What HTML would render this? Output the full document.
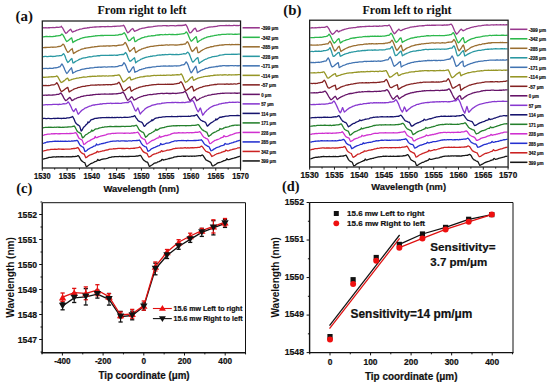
<!DOCTYPE html><html><head><meta charset="utf-8"><style>html,body{margin:0;padding:0;background:#fff;width:550px;height:386px;overflow:hidden}svg{display:block}</style></head><body><svg width="550" height="386" viewBox="0 0 550 386">
<rect width="550" height="386" fill="#fff"/>
<polyline points="42.90,27.84 43.90,27.76 44.90,27.90 45.90,27.69 46.90,27.81 47.90,27.73 48.90,27.61 49.90,27.73 50.90,27.56 51.90,27.66 52.40,27.53 52.90,27.51 53.90,27.56 54.90,27.62 55.90,27.32 56.90,27.27 57.90,27.33 58.90,27.37 59.40,27.23 59.90,27.02 60.91,26.76 61.40,26.31 61.91,27.08 62.91,28.47 63.91,30.41 64.91,32.20 65.80,33.30 66.91,32.75 67.91,31.57 68.91,30.64 69.91,29.77 70.70,29.21 71.91,31.38 72.50,32.08 72.91,31.84 73.91,31.37 74.91,31.05 75.91,30.55 76.91,30.13 77.91,29.87 78.91,29.52 79.91,29.19 80.91,29.10 81.91,28.84 82.91,28.49 83.91,28.41 84.91,28.23 85.91,28.19 86.91,28.00 87.91,27.74 88.91,27.85 89.91,27.46 90.91,27.45 91.91,27.44 92.91,27.14 93.91,27.14 94.91,26.90 95.91,27.02 96.91,26.97 97.91,26.84 98.91,26.89 99.91,26.66 100.92,26.75 101.92,26.68 102.92,26.66 103.50,26.60 103.92,26.72 104.92,26.74 105.92,26.57 106.92,26.61 107.92,26.40 108.92,26.59 109.92,26.56 110.92,26.65 111.92,26.58 112.92,26.39 113.92,26.41 114.50,26.49 114.92,26.27 115.92,26.36 116.92,26.20 117.92,26.11 118.92,26.03 119.92,26.19 120.92,25.93 121.50,25.95 121.92,25.88 122.92,25.59 123.50,25.16 123.92,25.69 124.92,27.33 125.92,29.57 126.92,31.55 127.90,32.83 128.92,31.95 129.92,30.98 130.92,29.83 131.92,29.01 132.80,28.47 133.92,30.33 134.60,31.44 134.92,31.26 135.92,30.70 136.92,30.28 137.92,29.86 138.92,29.35 139.93,28.90 140.93,28.71 141.93,28.40 142.93,28.20 143.93,28.08 144.93,27.79 145.93,27.54 146.93,27.40 147.93,27.26 148.93,26.92 149.93,27.06 150.93,26.91 151.93,26.84 152.93,26.70 153.93,26.46 154.93,26.35 155.93,26.15 156.93,26.22 157.93,25.96 158.93,25.88 159.93,25.87 160.93,25.80 161.93,25.82 162.93,25.69 163.93,25.65 164.93,25.68 165.60,25.66 165.93,25.74 166.93,25.62 167.93,25.89 168.93,25.79 169.93,25.64 170.93,25.66 171.93,25.68 172.93,25.68 173.93,25.59 174.93,25.82 175.93,25.86 176.60,25.68 176.93,25.68 177.93,25.51 178.94,25.46 179.94,25.48 180.94,25.39 181.94,25.51 182.94,25.25 183.60,25.19 183.94,25.40 184.94,24.84 185.60,24.51 185.94,24.94 186.94,26.35 187.94,28.86 188.94,31.33 189.94,32.96 190.94,32.64 191.94,31.48 192.94,30.27 193.94,29.02 194.94,28.34 195.27,28.08 195.94,29.35 196.94,31.49 197.94,31.20 198.94,30.80 199.94,30.33 200.94,29.81 201.94,29.37 202.94,28.99 203.94,28.62 204.94,28.15 205.94,27.96 206.94,27.66 207.94,27.32 208.94,27.12 209.94,27.02 210.94,26.85 211.94,26.84 212.94,26.79 213.94,26.50 214.94,26.53 215.94,26.41 216.94,26.27 217.94,25.95 218.94,25.79 219.94,25.69 220.94,25.60 221.94,25.53 222.95,25.60 223.95,25.65 224.95,25.59 225.95,25.46 226.95,25.50 227.70,25.54 228.95,25.31 229.95,25.50 230.95,25.57 231.95,25.53 232.95,25.52 233.95,25.43 234.95,25.34 235.95,25.53 236.95,25.39 237.95,25.53 238.70,25.59 238.95,25.40 239.95,25.37" fill="none" stroke="#98388e" stroke-width="1.3" stroke-linejoin="round" />
<polyline points="42.90,36.84 43.90,36.75 44.90,36.54 45.90,36.51 46.90,36.49 47.90,36.71 48.90,36.65 49.90,36.41 50.90,36.61 51.90,36.63 52.90,36.51 53.90,36.33 54.90,36.28 55.90,36.00 56.90,35.81 57.90,35.96 58.90,35.73 59.90,35.59 60.91,35.06 61.91,33.93 62.91,34.89 63.91,36.66 64.91,38.55 65.91,40.40 66.80,41.47 67.91,40.84 68.91,40.12 69.91,39.12 70.91,38.41 71.70,37.91 72.90,42.54 73.91,41.66 74.91,41.07 75.91,40.55 76.91,40.15 77.91,39.54 78.91,39.30 79.91,38.80 80.91,38.48 81.91,38.18 82.91,37.75 83.91,37.64 84.91,37.34 85.91,37.09 86.91,37.17 87.91,36.80 88.91,36.75 89.91,36.70 90.91,36.52 91.91,36.31 92.91,36.24 93.91,36.12 94.91,36.07 95.91,35.74 96.91,35.79 97.91,35.60 98.91,35.54 99.91,35.64 100.92,35.50 101.92,35.48 102.92,35.52 103.92,35.54 104.20,35.39 104.92,35.43 105.92,35.38 106.92,35.36 107.92,35.40 108.92,35.31 109.92,35.32 110.92,35.28 111.92,35.42 112.92,35.32 113.92,35.36 114.92,35.37 115.20,35.15 115.92,35.18 116.92,35.20 117.92,35.03 118.92,34.66 119.92,34.51 120.92,34.49 121.92,34.28 122.20,34.31 122.92,33.70 123.92,32.90 124.20,32.78 124.92,33.62 125.92,35.15 126.92,37.58 127.92,39.60 128.90,40.73 129.92,40.38 130.92,39.54 131.92,38.34 132.92,37.74 133.80,37.08 134.92,41.67 135.92,41.32 136.92,40.60 137.92,39.78 138.92,39.33 139.93,38.87 140.93,38.38 141.93,37.95 142.93,37.64 143.93,37.45 144.93,36.95 145.93,36.87 146.93,36.60 147.93,36.26 148.93,36.18 149.93,36.10 150.93,35.92 151.93,35.64 152.93,35.81 153.93,35.61 154.93,35.53 155.93,35.12 156.93,35.05 157.93,34.86 158.93,35.00 159.93,34.75 160.93,34.64 161.93,34.68 162.93,34.79 163.93,34.72 164.93,34.52 165.93,34.47 166.30,34.71 166.93,34.59 167.93,34.63 168.93,34.42 169.93,34.40 170.93,34.60 171.93,34.50 172.93,34.38 173.93,34.65 174.93,34.55 175.93,34.59 176.93,34.35 177.30,34.60 177.93,34.30 178.94,34.46 179.94,34.20 180.94,34.03 181.94,33.96 182.94,33.96 183.94,33.66 184.30,33.59 184.94,33.25 185.94,32.16 186.30,31.89 186.94,32.57 187.94,34.15 188.94,36.67 189.94,39.09 190.94,40.79 191.19,41.22 191.94,40.64 192.94,39.83 193.94,38.67 194.94,37.72 195.94,36.87 196.28,36.77 196.94,39.62 197.53,42.42 197.94,42.02 198.94,41.12 199.94,40.51 200.94,40.03 201.94,39.19 202.94,38.91 203.94,38.33 204.94,37.94 205.94,37.67 206.94,37.20 207.94,36.93 208.94,36.72 209.94,36.57 210.94,36.15 211.94,36.11 212.94,35.89 213.94,35.71 214.94,35.48 215.94,35.30 216.94,35.04 217.94,34.91 218.94,34.74 219.94,34.81 220.94,34.54 221.94,34.41 222.95,34.30 223.95,34.47 224.95,34.43 225.95,34.33 226.95,34.19 227.95,34.16 228.40,34.18 228.95,34.23 229.95,34.13 230.95,34.22 231.95,34.16 232.95,34.38 233.95,34.39 234.95,34.25 235.95,34.15 236.95,34.38 237.95,34.17 238.95,34.19 239.40,34.07 239.95,34.16" fill="none" stroke="#2cb84c" stroke-width="1.3" stroke-linejoin="round" />
<polyline points="42.90,47.59 43.90,47.57 44.90,47.44 45.90,47.51 46.90,47.32 47.90,47.37 48.90,47.29 49.90,47.36 50.90,47.21 51.90,47.18 52.90,47.24 53.90,47.19 54.90,47.20 55.90,47.03 56.90,46.91 57.90,46.68 58.90,46.50 59.90,46.38 60.91,46.10 61.91,45.19 62.91,44.11 63.91,44.72 64.91,46.88 65.91,49.15 66.91,50.98 67.80,52.40 68.91,51.69 69.91,50.62 70.91,49.64 71.91,48.92 72.20,48.56 72.91,51.39 73.50,53.54 73.91,53.34 74.91,52.62 75.91,51.99 76.91,51.34 77.91,50.92 78.91,50.39 79.91,49.98 80.91,49.45 81.91,49.05 82.91,48.78 83.91,48.58 84.91,48.24 85.91,48.25 86.91,47.96 87.91,47.80 88.91,47.63 89.91,47.49 90.91,47.30 91.91,47.01 92.91,47.12 93.91,46.96 94.91,46.75 95.91,46.63 96.91,46.55 97.91,46.26 98.91,46.38 99.91,46.15 100.92,46.03 101.92,46.04 102.92,46.14 103.92,45.94 104.92,46.09 105.20,46.16 105.92,45.99 106.92,45.93 107.92,45.94 108.92,45.99 109.92,45.99 110.92,45.92 111.92,45.91 112.92,45.71 113.92,45.71 114.92,45.73 115.92,45.87 116.20,45.72 116.92,45.73 117.92,45.41 118.92,45.25 119.92,45.12 120.92,45.06 121.92,44.90 122.92,44.78 123.20,44.63 123.92,43.96 124.92,42.62 125.20,42.41 125.92,43.19 126.92,45.36 127.92,47.60 128.92,50.09 129.90,51.51 130.92,50.52 131.92,49.63 132.92,48.65 133.92,47.87 134.30,47.50 134.92,49.93 135.60,52.69 135.92,52.66 136.92,51.67 137.92,51.10 138.92,50.35 139.93,49.92 140.93,49.57 141.93,48.86 142.93,48.68 143.93,48.23 144.93,48.03 145.93,47.68 146.93,47.27 147.93,47.25 148.93,46.91 149.93,46.57 150.93,46.39 151.93,46.39 152.93,46.24 153.93,46.06 154.93,45.87 155.93,45.79 156.93,45.65 157.93,45.69 158.93,45.30 159.93,45.44 160.93,45.38 161.93,45.08 162.93,45.28 163.93,45.16 164.93,45.18 165.93,44.96 166.93,44.97 167.30,44.97 167.93,45.16 168.93,45.02 169.93,44.93 170.93,44.94 171.93,44.89 172.93,44.80 173.93,44.81 174.93,45.03 175.93,44.85 176.93,45.05 177.93,44.82 178.30,44.82 178.94,44.84 179.94,44.61 180.94,44.50 181.94,44.50 182.94,44.30 183.94,44.12 184.94,43.94 185.30,44.00 185.94,43.39 186.94,41.92 187.30,41.68 187.94,42.20 188.94,44.20 189.94,46.70 190.94,49.42 191.94,51.26 192.19,51.46 192.94,50.88 193.94,50.11 194.94,48.64 195.94,47.68 196.76,47.07 197.94,52.64 198.94,52.59 199.94,51.87 200.94,50.93 201.94,50.41 202.94,49.72 203.94,49.28 204.94,48.76 205.94,48.27 206.94,47.89 207.94,47.56 208.94,47.48 209.94,47.07 210.94,46.73 211.94,46.73 212.94,46.56 213.94,46.20 214.94,45.94 215.94,45.81 216.94,45.61 217.94,45.52 218.94,45.27 219.94,45.17 220.94,45.04 221.94,45.01 222.95,45.01 223.95,44.88 224.95,44.71 225.95,44.65 226.95,44.65 227.95,44.58 228.95,44.56 229.40,44.47 229.95,44.54 230.95,44.76 231.95,44.49 232.95,44.60 233.95,44.64 234.95,44.72 235.95,44.51 236.95,44.53 237.95,44.52 238.95,44.57 239.95,44.58" fill="none" stroke="#9a6e30" stroke-width="1.3" stroke-linejoin="round" />
<polyline points="42.90,56.75 43.60,56.69 43.90,56.69 44.90,56.40 45.90,56.38 46.90,56.57 47.90,56.61 48.90,56.45 49.90,56.47 50.90,56.26 51.90,56.36 52.90,56.51 53.90,56.45 54.60,56.45 54.90,56.46 55.90,56.12 56.90,55.94 57.90,55.80 58.90,55.76 59.90,55.67 60.91,55.64 61.60,55.50 61.91,55.29 62.91,54.28 63.60,53.63 63.91,54.03 64.91,55.80 65.91,58.64 66.91,60.88 67.80,62.49 68.91,61.59 69.91,60.39 70.91,59.25 71.91,58.54 72.91,62.80 73.91,62.76 74.91,61.84 75.91,61.17 76.91,60.73 77.91,60.22 78.91,59.68 79.91,59.20 80.91,58.94 81.91,58.40 82.91,58.18 83.91,57.96 84.91,57.86 85.91,57.53 86.91,57.40 87.91,57.09 88.91,56.84 89.91,56.69 90.91,56.78 91.91,56.58 92.91,56.32 93.91,56.09 94.91,56.11 95.91,56.04 96.91,55.85 97.91,55.69 98.91,55.73 99.91,55.74 100.92,55.45 101.92,55.33 102.92,55.39 103.92,55.38 104.92,55.44 105.70,55.27 106.92,55.44 107.92,55.41 108.92,55.32 109.92,55.21 110.92,55.44 111.92,55.21 112.92,55.36 113.92,55.15 114.92,55.14 115.92,55.29 116.70,55.13 117.92,55.23 118.92,54.96 119.92,54.72 120.92,54.58 121.92,54.50 122.92,54.47 123.70,54.49 124.92,53.10 125.70,52.54 126.92,54.46 127.92,57.24 128.92,59.51 129.92,61.27 130.92,60.96 131.92,60.07 132.92,59.10 133.92,58.17 134.52,57.76 134.92,59.41 135.68,62.85 136.92,61.68 137.92,60.94 138.92,60.55 139.93,59.93 140.93,59.19 141.93,58.93 142.93,58.43 143.93,58.05 144.93,57.70 145.93,57.34 146.93,57.02 147.93,56.86 148.93,56.65 149.93,56.65 150.93,56.20 151.93,56.30 152.93,55.91 153.93,55.82 154.93,55.83 155.93,55.68 156.93,55.40 157.93,55.14 158.93,55.14 159.93,54.99 160.93,55.06 161.93,54.75 162.93,54.73 163.93,54.84 164.93,54.52 165.93,54.61 166.93,54.72 167.80,54.69 168.93,54.45 169.93,54.44 170.93,54.44 171.93,54.71 172.93,54.49 173.93,54.64 174.93,54.68 175.93,54.49 176.93,54.46 177.93,54.67 178.80,54.56 179.94,54.35 180.94,54.38 181.94,54.12 182.94,53.96 183.94,53.74 184.94,53.87 185.80,53.86 186.94,52.73 187.80,52.10 188.94,53.32 189.94,55.62 190.94,58.35 191.94,60.79 192.84,62.14 193.94,61.22 194.94,60.15 195.94,59.09 196.94,58.13 197.88,57.66 198.94,62.34 199.20,63.38 199.94,62.76 200.94,62.05 201.94,61.36 202.94,60.70 203.94,60.05 204.94,59.53 205.94,59.08 206.94,58.79 207.94,58.18 208.94,57.86 209.94,57.72 210.94,57.26 211.94,56.94 212.94,56.68 213.94,56.62 214.94,56.35 215.94,56.37 216.94,56.14 217.94,55.96 218.94,55.50 219.94,55.23 220.94,55.03 221.94,54.97 222.95,54.87 223.95,54.65 224.95,54.46 225.95,54.43 226.95,54.43 227.95,54.40 228.95,54.39 229.90,54.42 230.95,54.36 231.95,54.18 232.95,54.41 233.95,54.24 234.95,54.32 235.95,54.26 236.95,54.38 237.95,54.20 238.95,54.22 239.95,54.22" fill="none" stroke="#2a98a2" stroke-width="1.3" stroke-linejoin="round" />
<polyline points="42.90,68.39 43.90,68.59 44.90,68.47 45.90,68.36 46.90,68.35 47.90,68.52 48.90,68.33 49.90,68.22 50.90,68.37 51.90,68.30 52.90,68.38 53.90,67.96 54.90,67.89 55.90,67.77 56.90,67.53 57.90,67.32 58.90,66.84 59.90,66.77 60.91,65.45 61.91,63.96 62.91,65.41 63.91,67.46 64.91,70.06 65.91,72.06 66.80,73.47 67.91,72.34 68.91,70.93 69.91,69.65 70.91,68.53 71.50,67.81 71.91,69.38 72.80,73.24 73.91,72.45 74.91,71.96 75.91,71.41 76.91,71.00 77.91,70.62 78.91,70.38 79.91,70.08 80.91,69.65 81.91,69.33 82.91,69.20 83.91,69.10 84.91,68.75 85.91,68.62 86.91,68.43 87.91,68.47 88.91,68.27 89.91,67.99 90.91,67.89 91.91,67.86 92.91,67.79 93.91,67.70 94.91,67.41 95.91,67.34 96.91,67.42 97.91,67.25 98.91,67.14 99.91,67.09 100.92,67.25 101.92,67.01 102.92,67.06 103.92,66.97 104.92,66.97 105.92,67.10 106.92,67.12 107.92,66.90 108.92,66.82 109.92,66.97 110.92,66.79 111.92,66.71 112.92,66.97 113.92,66.80 114.92,66.91 115.92,66.67 116.92,66.64 117.92,66.29 118.92,65.96 119.92,65.68 120.92,65.66 121.92,65.55 122.92,64.52 123.92,62.67 124.92,63.82 125.92,65.87 126.92,68.56 127.92,70.86 128.90,72.44 129.92,71.55 130.92,70.26 131.92,68.44 132.92,67.27 133.60,66.81 133.92,67.98 134.90,72.32 135.92,71.64 136.92,71.33 137.92,70.82 138.92,70.21 139.93,69.65 140.93,69.56 141.93,69.05 142.93,68.92 143.93,68.56 144.93,68.38 145.93,67.95 146.93,67.95 147.93,67.59 148.93,67.49 149.93,67.49 150.93,67.35 151.93,67.03 152.93,66.93 153.93,66.86 154.93,66.78 155.93,66.62 156.93,66.43 157.93,66.37 158.93,66.44 159.93,66.42 160.93,66.08 161.93,66.20 162.93,66.22 163.93,65.96 164.93,66.19 165.93,65.95 166.20,66.10 166.93,66.07 167.93,66.09 168.93,65.97 169.93,66.00 170.93,66.04 171.93,65.98 172.93,66.05 173.93,65.97 174.93,65.96 175.93,65.81 176.93,66.00 177.20,65.95 177.93,65.79 178.94,65.79 179.94,65.59 180.94,65.26 181.94,64.95 182.94,64.85 183.94,64.60 184.20,64.58 184.94,63.73 185.94,61.99 186.20,61.86 186.94,62.83 187.94,64.65 188.94,67.57 189.94,70.22 190.94,72.45 191.19,72.81 191.94,72.02 192.94,70.44 193.94,68.86 194.94,67.23 195.94,66.31 196.94,70.38 197.43,72.79 197.94,72.47 198.94,71.72 199.94,71.14 200.94,70.41 201.94,70.18 202.94,69.58 203.94,69.34 204.94,68.97 205.94,68.42 206.94,68.33 207.94,68.12 208.94,67.61 209.94,67.49 210.94,67.43 211.94,67.08 212.94,67.16 213.94,66.82 214.94,66.87 215.94,66.51 216.94,66.48 217.94,66.48 218.94,66.12 219.94,66.02 220.94,66.00 221.94,65.85 222.95,65.69 223.95,65.68 224.95,65.63 225.95,65.85 226.95,65.75 227.95,65.81 228.30,65.57 228.95,65.77 229.95,65.55 230.95,65.68 231.95,65.72 232.95,65.63 233.95,65.79 234.95,65.69 235.95,65.70 236.95,65.79 237.95,65.54 238.95,65.83 239.30,65.71 239.95,65.57" fill="none" stroke="#4274b2" stroke-width="1.3" stroke-linejoin="round" />
<polyline points="42.90,77.30 43.90,77.10 44.90,77.31 45.90,77.15 46.90,77.06 47.90,77.17 48.90,77.01 49.90,76.86 50.90,76.96 51.90,76.66 52.90,76.83 53.90,76.58 54.90,76.64 55.90,76.39 56.90,75.83 57.90,76.94 58.90,78.72 59.90,80.64 60.91,82.16 61.20,82.48 61.91,82.32 62.91,81.64 63.91,80.88 64.91,80.15 65.91,79.10 66.91,78.47 67.80,78.20 68.90,80.68 69.91,80.20 70.91,79.90 71.91,79.45 72.91,79.19 73.91,78.85 74.91,78.69 75.91,78.45 76.91,78.10 77.91,78.03 78.91,77.80 79.91,77.53 80.91,77.64 81.91,77.28 82.91,77.13 83.91,77.00 84.91,77.07 85.91,77.05 86.91,76.91 87.91,76.69 88.91,76.54 89.91,76.37 90.91,76.48 91.91,76.38 92.91,76.25 93.91,76.28 94.91,76.17 95.91,76.29 96.91,76.19 97.91,76.01 98.91,76.20 99.91,75.91 100.92,76.05 101.92,75.99 102.92,75.92 103.92,75.85 104.92,76.06 105.92,75.80 106.92,75.96 107.92,76.06 108.92,75.79 109.92,75.80 110.92,75.89 111.92,75.79 112.92,75.77 113.92,75.75 114.92,75.47 115.92,75.45 116.92,75.40 117.92,75.00 118.92,74.82 119.92,75.72 120.92,77.70 121.92,79.69 122.92,81.66 123.30,82.04 123.92,81.67 124.92,81.12 125.92,80.19 126.92,79.21 127.92,78.30 128.92,77.62 129.90,77.08 130.92,79.95 131.92,79.75 132.92,79.29 133.92,78.94 134.92,78.54 135.92,78.08 136.92,77.88 137.92,77.59 138.92,77.47 139.93,77.17 140.93,76.90 141.93,76.85 142.93,76.80 143.93,76.42 144.93,76.51 145.93,76.12 146.93,76.10 147.93,75.99 148.93,76.05 149.93,76.01 150.93,75.84 151.93,75.62 152.93,75.71 153.93,75.46 154.93,75.37 155.93,75.53 156.93,75.39 157.93,75.38 158.93,75.34 159.93,75.42 160.93,75.25 161.20,75.36 161.93,75.31 162.93,75.35 163.93,75.21 164.93,75.29 165.93,75.23 166.93,75.14 167.93,75.10 168.93,75.22 169.93,75.04 170.93,75.30 171.93,75.05 172.20,75.01 172.93,75.00 173.93,75.22 174.93,74.97 175.93,74.83 176.93,74.73 177.93,74.68 178.94,74.84 179.20,74.82 179.94,74.58 180.94,74.13 181.20,73.85 181.94,74.83 182.94,76.85 183.94,79.49 184.94,81.57 185.57,82.44 185.94,82.01 186.94,81.63 187.94,80.78 188.94,79.81 189.94,78.54 190.94,77.69 191.94,77.00 192.43,76.74 192.94,78.44 193.58,80.36 193.94,80.10 194.94,79.65 195.94,79.12 196.94,78.59 197.94,78.15 198.94,77.82 199.94,77.72 200.94,77.27 201.94,77.06 202.94,76.87 203.94,76.54 204.94,76.44 205.94,76.28 206.94,76.28 207.94,76.03 208.94,75.90 209.94,75.99 210.94,75.72 211.94,75.71 212.94,75.52 213.94,75.22 214.94,75.24 215.94,75.16 216.94,75.19 217.94,74.99 218.94,75.06 219.94,74.96 220.94,74.84 221.94,75.03 222.95,74.77 223.30,75.00 223.95,74.79 224.95,74.74 225.95,74.80 226.95,74.98 227.95,75.05 228.95,74.73 229.95,74.89 230.95,74.89 231.95,74.98 232.95,74.79 233.95,74.88 234.30,74.84 234.95,74.97 235.95,74.75 236.95,74.91 237.95,74.64 238.95,74.56 239.95,74.66" fill="none" stroke="#969626" stroke-width="1.3" stroke-linejoin="round" />
<polyline points="42.90,85.60 43.90,85.46 44.90,85.61 45.90,85.42 46.90,85.63 47.80,85.59 48.90,85.52 49.90,85.34 50.90,85.10 51.90,84.96 52.90,84.81 53.90,84.85 54.80,84.51 55.90,83.72 56.80,82.64 57.90,84.31 58.90,86.54 59.90,89.12 60.91,90.90 61.50,91.59 61.91,91.59 62.91,90.81 63.91,90.11 64.91,89.27 65.91,88.52 66.91,87.84 67.80,87.39 68.91,91.24 69.20,91.97 69.91,91.39 70.91,90.94 71.91,90.27 72.91,89.76 73.91,89.09 74.91,88.74 75.91,88.45 76.91,88.04 77.91,87.58 78.91,87.40 79.91,87.28 80.91,86.84 81.91,86.62 82.91,86.47 83.91,86.43 84.91,86.32 85.91,85.95 86.91,85.79 87.91,85.66 88.91,85.53 89.91,85.45 90.91,85.21 91.91,85.16 92.91,85.02 93.91,85.20 94.91,85.06 95.91,84.81 96.91,85.05 97.91,84.75 98.90,84.83 99.91,85.01 100.92,84.94 101.92,84.91 102.92,84.80 103.92,84.71 104.92,84.84 105.92,84.66 106.92,84.68 107.92,84.73 108.92,84.61 109.90,84.72 110.92,84.75 111.92,84.60 112.92,84.40 113.92,84.29 114.92,84.09 115.92,83.87 116.90,83.93 117.92,82.93 118.90,82.14 119.92,83.64 120.92,85.67 121.92,88.10 122.92,90.13 123.60,90.89 123.92,90.71 124.92,90.32 125.92,89.62 126.92,88.73 127.92,87.87 128.92,87.23 129.90,86.72 130.92,90.37 131.30,91.33 131.92,90.83 132.92,90.25 133.92,89.48 134.92,89.04 135.92,88.67 136.92,88.21 137.92,87.79 138.92,87.32 139.93,87.06 140.93,86.79 141.93,86.59 142.93,86.30 143.93,86.18 144.93,86.08 145.93,85.67 146.93,85.67 147.93,85.57 148.93,85.29 149.93,85.16 150.93,85.17 151.93,84.74 152.93,84.78 153.93,84.55 154.93,84.66 155.93,84.64 156.93,84.45 157.93,84.27 158.93,84.39 159.93,84.36 160.93,84.40 161.93,84.33 162.93,84.37 163.93,84.42 164.93,84.32 165.93,84.27 166.93,84.44 167.93,84.20 168.93,84.35 169.93,84.25 170.93,84.36 171.93,84.15 172.93,84.35 173.93,84.04 174.93,83.80 175.93,83.73 176.93,83.63 177.93,83.39 178.94,83.43 179.94,82.59 180.94,81.72 181.94,82.83 182.94,84.86 183.94,87.18 184.94,89.38 185.84,90.65 186.94,90.01 187.94,89.23 188.94,88.61 189.94,87.66 190.94,86.87 191.94,86.31 192.33,86.37 192.94,88.26 193.77,91.02 194.94,90.16 195.94,89.57 196.94,88.91 197.94,88.65 198.94,88.00 199.94,87.69 200.94,87.39 201.94,87.07 202.94,86.66 203.94,86.35 204.94,86.19 205.94,85.85 206.94,85.88 207.94,85.56 208.94,85.56 209.94,85.23 210.94,85.10 211.94,84.90 212.94,84.80 213.94,84.57 214.94,84.39 215.94,84.51 216.94,84.27 217.94,84.18 218.94,84.14 219.94,84.15 220.94,84.10 221.94,84.15 222.95,84.15 223.95,84.06 224.95,84.24 225.95,84.21 226.95,83.96 227.95,84.20 228.95,84.23 229.95,84.19 230.95,83.98 231.95,84.20 232.95,84.14 233.95,83.94 234.95,83.87 235.95,84.07 236.95,83.84 237.95,83.57 238.95,83.39 239.95,83.29" fill="none" stroke="#842222" stroke-width="1.3" stroke-linejoin="round" />
<polyline points="42.90,95.11 43.90,95.27 44.90,95.11 45.90,95.03 46.90,95.25 47.90,95.19 48.90,94.97 49.90,95.18 50.90,95.07 51.80,95.11 52.90,94.99 53.90,94.96 54.90,94.80 55.90,94.70 56.90,94.37 57.90,94.44 58.80,94.32 59.90,93.61 60.80,92.92 61.91,94.41 62.91,96.16 63.91,98.09 64.91,99.79 65.70,100.63 66.91,99.98 67.91,98.91 68.91,98.13 69.91,97.39 70.91,98.86 71.91,100.55 72.91,100.05 73.91,99.57 74.91,98.77 75.91,98.56 76.91,98.01 77.91,97.66 78.91,97.35 79.91,97.09 80.91,96.66 81.91,96.43 82.91,96.37 83.91,95.89 84.91,95.88 85.91,95.71 86.91,95.37 87.91,95.42 88.91,95.32 89.91,95.27 90.91,94.95 91.91,95.03 92.91,94.75 93.91,94.63 94.91,94.66 95.91,94.29 96.91,94.43 97.91,94.34 98.91,94.19 99.91,94.32 100.92,94.13 101.92,94.14 102.90,94.14 103.92,94.20 104.92,94.01 105.92,94.06 106.92,94.04 107.92,94.07 108.92,94.15 109.92,93.96 110.92,94.12 111.92,93.97 112.92,93.99 113.90,93.90 114.92,93.90 115.92,93.96 116.92,93.75 117.92,93.67 118.92,93.41 119.92,93.32 120.90,93.25 121.92,92.64 122.90,92.00 123.92,93.26 124.92,94.94 125.92,97.36 126.92,99.31 127.80,100.29 128.92,99.39 129.92,98.49 130.92,97.40 131.92,96.75 132.92,98.23 133.92,100.05 134.92,99.68 135.92,99.08 136.92,98.56 137.92,97.95 138.92,97.50 139.93,97.09 140.93,96.74 141.93,96.38 142.93,96.11 143.93,95.70 144.93,95.60 145.93,95.32 146.93,95.23 147.93,94.84 148.93,94.71 149.93,94.52 150.93,94.63 151.93,94.55 152.93,94.34 153.93,94.11 154.93,94.13 155.93,94.00 156.93,93.83 157.93,93.64 158.93,93.57 159.93,93.55 160.93,93.47 161.93,93.46 162.93,93.50 163.93,93.57 164.93,93.28 165.93,93.44 166.93,93.26 167.93,93.28 168.93,93.49 169.93,93.41 170.93,93.51 171.93,93.35 172.93,93.21 173.93,93.32 174.93,93.38 175.93,93.48 176.93,93.44 177.93,93.19 178.94,93.07 179.94,92.86 180.94,92.93 181.94,92.70 182.94,92.62 183.94,91.95 184.94,91.25 185.94,92.48 186.94,94.21 187.94,96.94 188.94,98.90 189.94,100.71 190.94,100.09 191.94,99.04 192.94,98.13 193.94,97.03 194.57,96.81 194.94,97.14 195.94,99.38 196.65,100.81 196.94,100.56 197.94,99.86 198.94,99.16 199.94,98.35 200.94,97.99 201.94,97.53 202.94,97.01 203.94,96.77 204.94,96.20 205.94,96.11 206.94,95.75 207.94,95.26 208.94,95.03 209.94,95.03 210.94,94.90 211.94,94.49 212.94,94.42 213.94,94.40 214.94,94.06 215.94,94.12 216.94,93.84 217.94,93.56 218.94,93.53 219.94,93.49 220.94,93.35 221.94,93.35 222.95,93.12 223.95,93.28 224.95,93.11 225.95,93.18 226.95,93.17 227.95,93.10 228.95,93.09 229.95,93.22 230.95,93.27 231.95,93.22 232.95,93.15 233.95,93.06 234.95,92.98 235.95,93.27 236.95,93.19 237.95,93.23 238.95,93.02 239.95,93.03" fill="none" stroke="#661468" stroke-width="1.3" stroke-linejoin="round" />
<polyline points="42.90,105.05 43.90,104.94 44.90,104.81 45.90,104.67 46.90,104.67 47.90,104.78 48.20,104.61 48.90,104.69 49.90,104.64 50.90,104.71 51.90,104.66 52.90,104.47 53.90,104.35 54.90,104.41 55.90,104.44 56.90,104.47 57.90,104.52 58.90,104.52 59.20,104.24 59.90,104.44 60.91,104.32 61.91,104.21 62.91,103.97 63.91,103.74 64.91,103.80 65.91,103.69 66.20,103.63 66.91,103.20 67.91,102.10 68.20,101.85 68.91,102.80 69.91,104.58 70.91,106.52 71.91,108.87 72.91,110.74 73.80,111.58 74.91,109.91 75.80,108.58 76.91,111.11 77.91,113.73 78.20,114.20 78.91,113.47 79.91,112.35 80.91,111.25 81.91,110.24 82.91,109.69 83.91,108.99 84.91,108.20 85.91,107.77 86.91,107.39 87.91,106.96 88.91,106.47 89.91,106.12 90.91,105.85 91.91,105.46 92.91,105.22 93.91,105.01 94.91,104.99 95.91,104.71 96.91,104.62 97.91,104.40 98.91,104.28 99.91,104.01 100.92,103.84 101.92,104.02 102.92,103.71 103.92,103.54 104.92,103.63 105.92,103.62 106.92,103.36 107.92,103.47 108.92,103.35 109.92,103.39 110.30,103.22 110.92,103.22 111.92,103.51 112.92,103.45 113.92,103.31 114.92,103.32 115.92,103.21 116.92,103.36 117.92,103.23 118.92,103.38 119.92,103.31 120.92,103.31 121.30,103.35 121.92,103.08 122.92,102.91 123.92,102.84 124.92,102.70 125.92,102.54 126.92,102.41 127.92,102.48 128.30,102.56 128.92,102.01 129.92,101.23 130.30,101.00 130.92,101.41 131.92,103.26 132.92,105.49 133.92,107.77 134.92,110.05 135.90,111.12 136.92,109.48 137.90,107.87 138.92,110.50 139.93,113.44 140.30,114.03 140.93,113.20 141.93,111.88 142.93,111.06 143.93,110.12 144.93,109.03 145.93,108.22 146.93,107.63 147.93,107.08 148.93,106.74 149.93,106.29 150.93,105.86 151.93,105.25 152.93,105.17 153.93,104.87 154.93,104.60 155.93,104.48 156.93,103.99 157.93,103.84 158.93,103.88 159.93,103.77 160.93,103.53 161.93,103.25 162.93,103.20 163.93,103.13 164.93,102.82 165.93,102.79 166.93,102.70 167.93,102.60 168.93,102.66 169.93,102.53 170.93,102.53 171.93,102.48 172.40,102.65 172.93,102.43 173.93,102.65 174.93,102.47 175.93,102.41 176.93,102.69 177.93,102.46 178.94,102.68 179.94,102.65 180.94,102.65 181.94,102.40 182.94,102.49 183.40,102.38 183.94,102.61 184.94,102.49 185.94,102.31 186.94,102.13 187.94,101.97 188.94,102.01 189.94,101.82 190.40,101.84 190.94,101.34 191.94,100.43 192.40,100.10 192.94,100.86 193.94,102.34 194.94,104.69 195.94,107.59 196.94,109.79 197.94,111.55 198.22,111.80 198.94,110.65 199.94,108.62 200.30,107.97 200.94,109.39 201.94,113.05 202.80,115.21 203.94,113.74 204.94,112.21 205.94,111.35 206.94,110.05 207.94,109.43 208.94,108.57 209.94,107.72 210.94,107.18 211.94,106.57 212.94,106.07 213.94,105.62 214.94,105.29 215.94,105.15 216.94,104.85 217.94,104.55 218.94,104.05 219.94,103.90 220.94,103.90 221.94,103.43 222.95,103.44 223.95,103.11 224.95,103.15 225.95,102.69 226.95,102.80 227.95,102.54 228.95,102.39 229.95,102.27 230.95,102.48 231.95,102.35 232.95,102.21 233.95,102.28 234.50,102.43 234.95,102.21 235.95,102.32 236.95,102.18 237.95,102.20 238.95,102.39 239.95,102.37" fill="none" stroke="#8838d0" stroke-width="1.3" stroke-linejoin="round" />
<polyline points="42.90,118.50 43.90,118.45 44.90,118.44 45.90,118.59 46.90,118.54 47.90,118.45 48.90,118.41 49.90,118.53 50.90,118.54 51.90,118.56 52.90,118.47 53.60,118.34 53.90,118.29 54.90,118.49 55.90,118.38 56.90,118.47 57.90,118.25 58.90,118.48 59.90,118.32 60.91,118.48 61.91,118.48 62.91,118.35 63.91,118.19 64.60,118.46 64.91,118.30 65.91,118.32 66.91,117.98 67.91,117.80 68.91,117.85 69.91,117.58 70.60,117.46 70.91,117.42 71.91,116.95 72.60,116.47 72.91,116.99 73.91,118.87 74.91,121.32 75.91,123.08 76.20,123.60 76.91,124.12 77.91,125.03 78.20,125.01 78.91,125.56 79.50,125.79 79.91,126.88 80.91,130.24 81.20,131.12 81.91,130.34 82.91,128.44 83.91,126.93 84.20,126.67 84.91,126.16 85.91,124.88 86.91,124.09 87.56,123.40 87.91,121.86 88.64,122.69 88.91,122.53 89.91,121.39 90.91,119.83 91.91,119.51 92.91,119.39 93.91,118.86 94.91,118.46 95.91,118.39 96.20,118.33 96.91,118.25 97.91,118.17 98.91,117.82 99.91,117.92 100.92,117.76 101.92,117.53 102.92,117.53 103.92,117.64 104.92,117.62 105.92,117.54 106.92,117.47 107.92,117.55 108.92,117.44 109.92,117.57 110.92,117.65 111.92,117.40 112.92,117.52 113.92,117.56 114.92,117.36 115.60,117.56 115.92,117.59 116.92,117.40 117.92,117.40 118.92,117.53 119.92,117.42 120.92,117.36 121.92,117.53 122.92,117.47 123.92,117.32 124.92,117.27 125.92,117.29 126.60,117.32 126.92,117.47 127.92,117.32 128.92,117.21 129.92,117.02 130.92,116.88 131.92,116.50 132.60,116.59 132.92,116.63 133.92,116.07 134.60,115.58 134.92,115.96 135.92,117.53 136.92,118.99 137.92,120.42 138.63,120.89 138.92,121.10 139.93,121.68 140.87,121.96 141.93,122.41 142.33,122.80 142.93,123.74 143.93,126.09 144.23,126.41 144.93,125.98 145.93,124.90 146.93,123.81 147.59,123.07 147.93,123.14 148.93,122.42 149.93,121.78 150.93,121.02 151.35,120.93 151.89,119.64 152.56,120.47 152.93,120.16 153.93,119.39 154.93,118.46 155.39,118.38 155.93,118.10 156.93,117.92 157.93,117.80 158.93,117.39 159.93,117.33 160.93,117.29 161.93,117.08 162.93,116.91 163.93,116.86 164.93,116.78 165.93,116.57 166.41,116.54 166.93,116.53 167.93,116.57 168.93,116.59 169.93,116.53 170.93,116.50 171.93,116.44 172.93,116.57 173.93,116.65 174.93,116.56 175.93,116.53 176.93,116.54 177.60,116.38 177.93,116.54 178.94,116.45 179.94,116.47 180.94,116.48 181.94,116.42 182.94,116.36 183.94,116.33 184.94,116.32 185.94,116.40 186.94,116.35 187.94,116.40 188.60,116.21 188.94,116.30 189.94,116.36 190.94,116.02 191.94,115.96 192.94,115.79 193.94,115.60 194.60,115.77 194.94,115.43 195.94,115.04 196.60,114.57 196.94,114.85 197.94,116.47 198.94,117.81 199.94,119.13 200.94,120.23 201.94,120.70 202.94,121.37 203.60,121.42 203.94,121.55 204.94,122.21 205.22,122.21 205.94,123.21 206.94,125.54 207.35,126.10 207.94,125.83 208.94,124.81 209.94,123.76 210.94,122.93 211.94,122.38 212.94,121.77 213.94,121.03 214.94,120.46 215.30,120.24 215.90,118.81 216.65,119.79 216.94,119.71 217.94,118.68 218.94,117.99 219.80,117.18 220.94,117.26 221.94,117.00 222.95,116.74 223.95,116.66 224.95,116.33 225.95,116.13 226.95,116.17 227.95,116.10 228.95,115.90 229.95,115.72 230.95,115.67 231.95,115.61 232.95,115.68 233.95,115.53 234.95,115.54 235.95,115.58 236.95,115.51 237.95,115.47 238.95,115.61 239.60,115.62 239.95,115.50" fill="none" stroke="#16146e" stroke-width="1.3" stroke-linejoin="round" />
<polyline points="42.90,127.78 43.90,127.55 44.90,127.46 45.90,127.30 46.90,127.38 47.90,127.36 48.90,127.19 49.90,127.45 50.90,127.25 51.90,127.40 52.90,127.39 53.90,127.41 54.90,127.16 55.20,127.23 55.90,127.37 56.90,127.08 57.90,127.08 58.90,127.24 59.90,127.21 60.91,127.34 61.91,127.29 62.91,127.21 63.91,127.35 64.91,127.18 65.91,127.17 66.20,127.23 66.91,127.09 67.91,126.99 68.91,126.97 69.91,126.78 70.91,126.88 71.91,126.71 72.20,126.65 72.91,126.32 73.91,126.04 74.20,125.99 74.91,126.87 75.91,128.73 76.91,130.73 77.72,131.74 78.91,132.42 79.67,132.87 80.91,133.57 81.91,136.36 82.60,137.87 82.91,137.75 83.91,136.97 84.91,135.61 85.91,134.63 86.60,134.39 86.91,134.23 87.91,133.58 88.91,132.71 89.91,132.24 90.91,131.66 91.72,129.99 92.52,131.13 92.91,130.95 93.91,130.16 94.91,129.33 95.88,128.89 96.91,128.78 97.91,128.53 98.91,128.12 99.91,127.81 100.92,127.67 101.92,127.43 102.60,127.24 102.92,127.43 103.92,127.22 104.92,126.90 105.92,126.87 106.92,126.86 107.92,126.60 108.92,126.66 109.92,126.42 110.92,126.51 111.92,126.67 112.92,126.57 113.92,126.59 114.92,126.42 115.92,126.51 116.92,126.51 117.20,126.42 117.92,126.53 118.92,126.49 119.92,126.63 120.92,126.49 121.92,126.43 122.92,126.33 123.92,126.33 124.92,126.52 125.92,126.30 126.92,126.29 127.92,126.31 128.20,126.42 128.92,126.47 129.92,126.32 130.92,126.28 131.92,125.93 132.92,125.82 133.92,125.99 134.20,125.83 134.92,125.75 135.92,125.27 136.20,125.16 136.92,125.92 137.92,127.48 138.92,129.50 139.93,130.69 140.93,131.20 141.93,131.94 142.33,132.09 142.93,132.24 143.75,132.90 144.93,135.72 145.61,137.29 145.93,136.97 146.93,136.28 147.93,135.14 148.93,134.09 149.93,133.67 150.93,133.26 151.93,132.51 152.93,132.01 153.93,131.36 154.93,130.75 155.82,129.14 156.72,130.34 157.93,129.63 158.93,129.10 159.93,128.29 160.48,128.13 160.93,128.18 161.93,127.84 162.93,127.63 163.93,127.54 164.93,127.13 165.93,126.96 166.93,126.54 167.93,126.33 168.93,126.28 169.93,126.10 170.93,126.23 171.93,125.90 172.93,125.90 173.93,125.70 174.93,125.80 175.93,125.74 176.93,125.73 177.93,125.61 178.94,125.62 179.20,125.84 179.94,125.68 180.94,125.64 181.94,125.62 182.94,125.64 183.94,125.62 184.94,125.55 185.94,125.74 186.94,125.63 187.94,125.56 188.94,125.73 189.94,125.53 190.20,125.58 190.94,125.72 191.94,125.41 192.94,125.40 193.94,125.42 194.94,125.31 195.94,125.04 196.20,125.08 196.94,124.99 197.94,124.52 198.20,124.65 198.94,125.07 199.94,126.70 200.94,128.16 201.94,129.42 202.59,130.06 202.94,130.08 203.94,130.87 204.94,131.26 205.94,131.87 206.62,132.03 206.94,132.42 207.94,134.86 208.70,136.41 209.94,135.56 210.94,134.89 211.94,133.73 212.94,133.08 213.70,132.70 214.94,132.15 215.94,131.76 216.94,131.02 217.94,130.55 218.94,130.10 219.30,129.92 219.94,128.52 220.94,129.16 221.94,129.00 222.95,128.66 223.95,127.89 224.95,127.53 225.30,127.25 225.95,127.32 226.95,127.08 227.95,126.90 228.95,126.54 229.95,126.15 230.95,125.93 231.95,125.64 232.95,125.41 233.70,125.48 234.95,125.22 235.95,125.17 236.95,125.25 237.95,125.15 238.95,125.15 239.95,125.12" fill="none" stroke="#24802c" stroke-width="1.3" stroke-linejoin="round" />
<polyline points="42.90,135.38 43.90,135.10 44.90,134.70 45.90,134.64 46.80,134.45 47.90,134.21 48.90,134.10 49.90,134.04 50.90,133.95 51.90,133.72 52.90,133.86 53.90,133.68 54.80,133.75 55.90,133.60 56.80,133.57 57.90,133.82 58.90,133.76 59.90,133.75 60.91,133.53 61.91,133.53 62.91,133.57 63.91,133.58 64.91,133.61 65.91,133.63 66.91,133.52 67.80,133.60 68.91,133.64 69.91,133.40 70.91,133.51 71.91,133.32 72.91,133.29 73.80,133.09 74.91,132.79 75.80,132.61 76.91,134.14 77.91,136.16 78.91,138.10 79.91,138.83 80.91,139.45 81.91,139.94 82.22,140.34 82.91,142.13 83.80,144.54 84.91,143.97 85.91,143.07 86.91,142.34 87.91,141.34 88.80,141.09 89.91,140.63 90.91,139.88 91.91,139.46 92.91,138.78 93.91,138.45 94.40,138.33 94.91,137.01 95.20,136.41 95.91,137.53 96.20,137.63 96.91,137.61 97.91,137.14 98.91,136.71 99.91,136.38 100.40,136.20 100.92,136.07 101.92,135.75 102.92,135.70 103.92,135.32 104.92,135.03 105.92,134.83 106.92,134.25 107.92,134.19 108.80,133.78 109.92,133.85 110.92,133.75 111.92,133.44 112.92,133.43 113.92,133.48 114.92,133.32 115.92,133.27 116.80,133.16 117.92,133.09 118.80,133.18 119.92,133.19 120.92,133.12 121.92,133.15 122.92,133.09 123.92,133.27 124.92,133.26 125.92,133.12 126.92,133.12 127.92,133.20 128.92,133.18 129.80,133.33 130.92,133.07 131.92,132.97 132.92,133.05 133.92,132.71 134.92,132.77 135.80,132.64 136.92,132.44 137.80,132.09 138.92,133.59 139.93,135.29 140.93,137.15 141.55,137.79 141.93,137.91 142.93,138.77 143.63,139.19 143.93,139.07 144.93,139.66 145.93,142.10 146.76,144.12 147.93,143.48 148.93,142.81 149.93,141.93 150.93,141.30 151.93,140.63 152.36,140.35 152.93,140.26 153.93,139.92 154.93,139.37 155.93,138.76 156.93,138.21 157.93,137.78 158.63,137.89 158.93,137.33 159.53,135.92 159.93,136.48 160.65,137.31 160.93,137.13 161.93,136.70 162.93,136.44 163.93,136.03 164.93,135.65 165.35,135.68 165.93,135.44 166.93,135.55 167.93,135.20 168.93,134.85 169.93,134.57 170.93,134.10 171.93,133.64 172.93,133.36 173.93,133.12 174.76,132.96 175.93,133.08 176.93,133.01 177.93,132.77 178.94,132.69 179.94,132.81 180.80,132.86 181.94,132.88 182.94,132.64 183.72,132.83 184.94,132.84 185.94,132.81 186.94,132.68 187.94,132.63 188.94,132.83 189.94,132.67 190.94,132.68 191.80,132.73 192.94,132.61 193.94,132.66 194.94,132.37 195.94,132.21 196.94,132.29 197.80,132.26 198.94,131.96 199.80,131.67 200.94,133.00 201.94,134.67 202.94,136.16 203.94,137.25 204.94,137.68 205.94,138.40 206.31,138.63 206.94,138.73 207.82,139.33 208.94,141.77 209.80,143.71 210.94,143.39 211.94,142.46 212.94,141.70 213.94,141.08 214.94,140.36 215.94,140.09 216.94,139.60 217.94,139.49 218.94,139.03 219.94,138.51 220.94,137.92 221.94,137.48 222.95,137.32 223.95,135.67 224.95,136.38 225.30,136.62 225.95,136.53 226.95,136.32 227.95,136.02 228.95,135.69 229.95,135.12 230.55,134.99 230.95,134.94 231.95,134.67 232.95,134.23 233.95,133.80 234.95,133.39 235.95,133.13 236.95,132.88 237.95,132.82 238.95,132.64 239.95,132.52" fill="none" stroke="#d030d0" stroke-width="1.3" stroke-linejoin="round" />
<polyline points="42.90,143.45 43.90,143.16 44.90,142.75 45.90,142.51 46.90,142.01 47.90,142.01 48.90,141.87 49.90,141.64 50.90,141.60 51.90,141.62 52.90,141.39 53.90,141.38 54.90,141.24 55.90,141.24 56.90,141.41 57.90,141.13 58.20,141.18 58.90,141.33 59.90,141.26 60.91,141.14 61.91,141.32 62.91,141.23 63.91,141.29 64.91,141.24 65.91,141.27 66.91,141.28 67.91,141.23 68.91,141.13 69.20,141.15 69.91,141.35 70.91,141.18 71.91,140.96 72.91,141.12 73.91,140.85 74.91,140.75 75.20,140.87 75.91,140.63 76.91,140.42 77.20,140.39 77.91,141.14 78.91,143.15 79.91,144.82 80.47,145.57 80.91,145.83 81.91,146.49 82.28,146.78 82.91,147.02 83.46,147.42 83.91,148.58 84.91,151.51 85.91,151.24 86.91,150.49 87.91,149.39 88.91,148.87 89.91,148.24 90.91,147.72 91.91,147.47 92.91,146.76 93.91,146.13 94.91,145.94 95.60,145.61 95.91,145.10 96.40,143.89 96.91,144.64 97.40,144.91 97.91,144.86 98.91,144.56 99.91,144.03 100.92,143.85 101.60,143.57 101.92,143.56 102.92,143.52 103.92,143.20 104.92,143.08 105.92,142.70 106.92,142.48 107.92,142.08 108.92,141.94 109.92,141.72 110.92,141.38 111.92,141.44 112.92,141.19 113.92,141.21 114.92,141.10 115.92,141.10 116.92,140.84 117.92,140.91 118.92,141.02 119.92,141.08 120.20,141.01 120.92,140.79 121.92,140.96 122.92,140.80 123.92,140.94 124.92,141.02 125.92,140.80 126.92,141.06 127.92,140.98 128.92,140.84 129.92,140.82 130.92,140.90 131.20,141.02 131.92,140.91 132.92,140.69 133.92,140.59 134.92,140.53 135.92,140.68 136.92,140.43 137.20,140.54 137.92,140.29 138.92,140.13 139.20,139.99 139.93,140.67 140.93,142.56 141.93,144.18 142.86,145.28 143.93,145.98 144.89,146.61 145.93,146.83 146.21,147.04 146.93,148.62 147.93,151.27 148.93,150.96 149.93,150.26 150.93,149.23 151.93,148.52 152.93,148.13 153.54,147.84 153.93,147.66 154.93,147.34 155.93,146.78 156.93,146.48 157.93,145.84 158.93,145.59 159.81,145.27 160.70,143.51 161.82,144.64 162.93,144.35 163.93,144.22 164.93,143.75 165.93,143.27 166.53,143.20 166.93,143.21 167.93,143.09 168.93,142.91 169.93,142.55 170.93,142.19 171.93,141.73 172.93,141.59 173.93,141.24 174.93,140.93 175.93,140.92 176.93,140.99 177.93,140.60 178.94,140.57 179.94,140.69 180.94,140.53 181.94,140.52 182.20,140.59 182.94,140.51 183.94,140.61 184.90,140.59 185.94,140.73 186.94,140.74 187.94,140.43 188.94,140.60 189.94,140.66 190.94,140.70 191.94,140.66 192.94,140.61 193.20,140.61 193.94,140.49 194.94,140.40 195.94,140.49 196.94,140.43 197.94,140.38 198.94,140.24 199.20,140.11 199.94,140.10 200.94,139.80 201.20,139.69 201.94,140.40 202.94,141.74 203.94,143.41 204.94,144.58 205.28,144.73 205.94,145.12 206.94,145.79 207.55,146.28 207.94,146.25 208.94,146.68 209.94,148.63 210.94,150.84 211.94,150.50 212.94,149.85 213.94,149.12 214.94,148.69 215.94,147.94 216.94,147.49 217.20,147.45 217.94,147.20 218.94,146.82 219.94,146.36 220.94,145.97 221.94,145.53 222.95,145.28 223.95,144.94 224.20,145.01 224.95,143.56 225.20,143.43 225.95,143.97 226.45,144.20 226.95,144.15 227.95,144.03 228.95,143.84 229.95,143.30 230.95,143.14 231.70,142.83 232.95,142.66 233.95,142.08 234.95,141.85 235.95,141.63 236.95,141.10 237.95,140.81 238.95,140.51 239.95,140.39" fill="none" stroke="#2430d0" stroke-width="1.3" stroke-linejoin="round" />
<polyline points="42.90,151.03 43.90,150.93 44.90,150.52 45.90,150.32 46.90,150.00 47.90,149.91 48.80,149.85 49.90,149.66 50.90,149.41 51.90,149.47 52.90,149.46 53.90,149.28 54.90,149.06 55.90,149.27 56.80,149.28 57.90,149.10 58.80,149.02 59.90,149.03 60.91,149.14 61.91,149.24 62.91,149.17 63.91,149.26 64.91,149.03 65.91,149.06 66.91,149.19 67.91,149.16 68.91,149.08 69.80,149.16 70.91,148.95 71.91,148.73 72.91,148.69 73.91,148.42 74.91,148.48 75.80,148.31 76.91,147.84 77.80,147.48 78.91,148.86 79.91,150.86 80.91,152.24 81.91,153.14 82.91,153.64 83.91,154.21 84.22,154.02 84.91,155.67 85.80,157.74 86.91,157.11 87.91,156.35 88.91,155.62 89.91,154.97 90.80,154.80 91.91,154.26 92.91,154.06 93.91,153.45 94.91,153.03 95.91,152.69 96.40,152.56 96.91,151.69 97.20,151.25 97.91,151.83 98.20,152.16 98.91,151.86 99.91,151.70 100.92,151.36 101.92,151.08 102.40,150.84 102.92,150.93 103.92,150.83 104.92,150.46 105.92,150.17 106.92,149.99 107.92,149.86 108.92,149.35 109.92,149.10 110.80,149.10 111.92,149.04 112.92,148.97 113.92,148.73 114.92,148.84 115.92,148.53 116.92,148.66 117.92,148.42 118.80,148.38 119.92,148.41 120.80,148.37 121.92,148.51 122.92,148.52 123.92,148.40 124.92,148.64 125.92,148.46 126.92,148.38 127.92,148.39 128.92,148.57 129.92,148.62 130.92,148.38 131.80,148.33 132.92,148.47 133.92,148.16 134.92,148.25 135.92,147.94 136.92,147.86 137.80,147.70 138.92,147.31 139.80,146.81 140.93,148.07 141.93,149.97 142.93,151.26 143.55,152.06 143.93,151.98 144.93,152.76 145.63,152.99 145.93,153.22 146.93,153.38 147.93,155.44 148.76,157.01 149.93,156.70 150.93,156.12 151.93,155.35 152.93,154.59 153.93,154.13 154.36,154.00 154.93,153.93 155.93,153.55 156.93,153.14 157.93,152.88 158.93,152.43 159.93,151.99 160.63,152.06 160.93,151.42 161.53,150.59 161.93,150.74 162.65,151.56 162.93,151.52 163.93,151.10 164.93,150.95 165.93,150.66 166.93,150.25 167.35,150.19 167.93,150.18 168.93,150.17 169.93,149.73 170.93,149.62 171.93,149.29 172.93,148.94 173.93,148.72 174.93,148.59 175.93,148.21 176.76,148.32 177.93,148.05 178.94,148.12 179.94,148.08 180.94,147.83 181.94,148.02 182.80,148.05 183.94,147.82 184.94,147.73 185.72,147.76 186.94,148.03 187.94,147.72 188.94,148.01 189.94,147.76 190.94,147.95 191.94,147.74 192.94,147.76 193.80,147.92 194.94,147.62 195.94,147.57 196.94,147.60 197.94,147.39 198.94,147.32 199.80,147.28 200.94,146.43 201.80,146.12 202.94,147.44 203.94,148.92 204.94,150.19 205.94,151.33 206.94,151.67 207.94,152.26 208.31,152.26 208.94,152.44 209.82,153.06 210.94,154.89 211.80,156.52 212.94,155.89 213.94,155.50 214.94,154.79 215.94,154.29 216.94,153.71 217.94,153.52 218.94,153.14 219.94,153.03 220.94,152.58 221.94,152.06 222.95,151.76 223.95,151.49 224.95,151.41 225.95,149.96 226.95,150.50 227.30,150.94 227.95,150.82 228.95,150.54 229.95,150.11 230.95,149.80 231.95,149.57 232.55,149.36 232.95,149.27 233.95,149.18 234.95,148.86 235.95,148.60 236.95,148.24 237.95,147.85 238.95,147.84 239.95,147.65" fill="none" stroke="#cc2222" stroke-width="1.3" stroke-linejoin="round" />
<polyline points="42.90,159.11 43.90,158.87 44.90,158.65 45.90,158.45 46.90,158.12 47.90,157.80 48.90,157.48 49.40,157.38 49.90,157.35 50.90,157.41 51.90,157.11 52.90,157.00 53.90,156.92 54.90,156.78 55.90,157.02 56.90,156.68 57.40,156.87 57.90,156.97 58.90,156.75 59.30,156.86 59.90,156.79 60.91,156.74 61.91,156.73 62.91,156.70 63.91,156.93 64.91,156.92 65.91,156.96 66.91,156.68 67.91,156.89 68.91,156.77 69.91,156.87 70.30,156.84 70.91,156.73 71.91,156.86 72.91,156.45 73.91,156.57 74.91,156.51 75.91,156.32 76.30,156.33 76.91,156.28 77.91,155.64 78.30,155.67 78.91,156.38 79.91,158.06 80.91,160.04 81.69,160.88 82.91,161.73 83.57,162.14 83.91,162.29 84.80,162.64 85.91,165.69 86.40,166.70 86.91,166.38 87.91,165.87 88.91,164.94 89.91,164.32 90.91,163.55 91.40,163.43 91.91,163.23 92.91,162.82 93.91,162.21 94.91,161.64 95.91,161.41 96.91,160.96 97.80,159.43 98.80,160.43 99.91,160.24 100.92,159.67 101.92,159.27 102.92,159.22 103.92,158.96 104.92,158.82 105.92,158.63 106.92,158.38 107.92,158.09 108.92,157.53 109.92,157.37 110.92,157.30 111.40,157.21 111.92,156.93 112.92,156.83 113.92,156.74 114.92,156.59 115.92,156.58 116.92,156.67 117.92,156.54 118.92,156.50 119.40,156.38 119.92,156.48 120.92,156.66 121.30,156.57 121.92,156.49 122.92,156.49 123.92,156.60 124.92,156.58 125.92,156.39 126.92,156.56 127.92,156.46 128.92,156.51 129.92,156.42 130.92,156.46 131.92,156.45 132.30,156.46 132.92,156.31 133.92,156.29 134.92,156.30 135.92,156.03 136.92,155.97 137.92,156.06 138.30,155.90 138.92,155.74 139.93,155.31 140.30,155.41 140.93,155.78 141.93,157.50 142.93,159.31 143.93,160.36 144.93,160.99 145.93,161.76 146.21,161.81 146.93,162.05 147.58,162.22 147.93,162.92 148.93,165.53 149.37,166.43 149.93,166.09 150.93,165.57 151.93,164.93 152.93,164.23 153.93,163.43 154.93,163.00 155.93,162.80 156.93,162.51 157.93,161.80 158.93,161.56 159.93,161.05 160.93,160.62 161.24,160.65 161.93,159.31 162.93,159.70 163.26,160.17 163.93,159.92 164.93,159.67 165.93,159.31 166.93,159.11 167.93,158.85 168.93,158.49 169.93,158.48 170.93,158.17 171.93,157.84 172.93,157.62 173.93,157.17 174.93,156.91 175.93,156.82 176.93,156.52 177.37,156.48 177.93,156.43 178.94,156.45 179.94,156.33 180.94,156.30 181.94,156.17 182.94,156.04 183.30,156.24 183.94,156.20 184.94,156.26 185.94,156.26 186.33,156.05 186.94,156.09 187.94,156.04 188.94,156.28 189.94,156.05 190.94,156.05 191.94,156.26 192.94,156.20 193.94,156.04 194.30,156.24 194.94,156.21 195.94,156.05 196.94,155.81 197.94,155.91 198.94,155.72 199.94,155.70 200.30,155.81 200.94,155.57 201.94,155.19 202.30,154.87 202.94,155.47 203.94,156.87 204.94,158.29 205.94,159.92 206.54,160.19 206.94,160.33 207.94,160.94 208.89,161.37 209.94,161.99 210.42,162.06 210.94,162.87 211.94,165.25 212.43,165.88 212.94,165.80 213.94,165.51 214.94,164.87 215.94,164.21 216.94,163.38 217.94,162.85 218.68,162.55 218.94,162.66 219.94,162.34 220.94,162.00 221.94,161.58 222.95,161.16 223.95,160.69 224.95,160.52 225.68,160.16 225.95,160.06 226.68,158.77 226.95,158.77 227.93,159.69 228.95,159.57 229.95,159.25 230.95,158.98 231.95,158.59 232.95,158.28 233.95,158.21 234.95,157.75 235.95,157.54 236.95,157.23 237.95,156.84 238.95,156.51 239.95,156.44" fill="none" stroke="#161616" stroke-width="1.3" stroke-linejoin="round" />
<rect x="42.30" y="21.00" width="198.25" height="147.00" fill="none" stroke="#1a1a1a" stroke-width="1.25"/>
<line x1="42.30" y1="168.00" x2="42.30" y2="170.60" stroke="#1a1a1a" stroke-width="1.0"/>
<line x1="54.69" y1="168.00" x2="54.69" y2="169.60" stroke="#1a1a1a" stroke-width="1.0"/>
<line x1="67.08" y1="168.00" x2="67.08" y2="170.60" stroke="#1a1a1a" stroke-width="1.0"/>
<line x1="79.47" y1="168.00" x2="79.47" y2="169.60" stroke="#1a1a1a" stroke-width="1.0"/>
<line x1="91.86" y1="168.00" x2="91.86" y2="170.60" stroke="#1a1a1a" stroke-width="1.0"/>
<line x1="104.25" y1="168.00" x2="104.25" y2="169.60" stroke="#1a1a1a" stroke-width="1.0"/>
<line x1="116.64" y1="168.00" x2="116.64" y2="170.60" stroke="#1a1a1a" stroke-width="1.0"/>
<line x1="129.03" y1="168.00" x2="129.03" y2="169.60" stroke="#1a1a1a" stroke-width="1.0"/>
<line x1="141.43" y1="168.00" x2="141.43" y2="170.60" stroke="#1a1a1a" stroke-width="1.0"/>
<line x1="153.82" y1="168.00" x2="153.82" y2="169.60" stroke="#1a1a1a" stroke-width="1.0"/>
<line x1="166.21" y1="168.00" x2="166.21" y2="170.60" stroke="#1a1a1a" stroke-width="1.0"/>
<line x1="178.60" y1="168.00" x2="178.60" y2="169.60" stroke="#1a1a1a" stroke-width="1.0"/>
<line x1="190.99" y1="168.00" x2="190.99" y2="170.60" stroke="#1a1a1a" stroke-width="1.0"/>
<line x1="203.38" y1="168.00" x2="203.38" y2="169.60" stroke="#1a1a1a" stroke-width="1.0"/>
<line x1="215.77" y1="168.00" x2="215.77" y2="170.60" stroke="#1a1a1a" stroke-width="1.0"/>
<line x1="228.16" y1="168.00" x2="228.16" y2="169.60" stroke="#1a1a1a" stroke-width="1.0"/>
<line x1="240.55" y1="168.00" x2="240.55" y2="170.60" stroke="#1a1a1a" stroke-width="1.0"/>
<text x="42.30" y="178.80" font-size="8.2" text-anchor="middle" style="font-family:'Liberation Sans',sans-serif;font-weight:bold" fill="#111" textLength="16.60" lengthAdjust="spacingAndGlyphs" stroke="#111" stroke-width="0.22" >1530</text>
<text x="67.08" y="178.80" font-size="8.2" text-anchor="middle" style="font-family:'Liberation Sans',sans-serif;font-weight:bold" fill="#111" textLength="16.60" lengthAdjust="spacingAndGlyphs" stroke="#111" stroke-width="0.22" >1535</text>
<text x="91.86" y="178.80" font-size="8.2" text-anchor="middle" style="font-family:'Liberation Sans',sans-serif;font-weight:bold" fill="#111" textLength="16.60" lengthAdjust="spacingAndGlyphs" stroke="#111" stroke-width="0.22" >1540</text>
<text x="116.64" y="178.80" font-size="8.2" text-anchor="middle" style="font-family:'Liberation Sans',sans-serif;font-weight:bold" fill="#111" textLength="16.60" lengthAdjust="spacingAndGlyphs" stroke="#111" stroke-width="0.22" >1545</text>
<text x="141.43" y="178.80" font-size="8.2" text-anchor="middle" style="font-family:'Liberation Sans',sans-serif;font-weight:bold" fill="#111" textLength="16.60" lengthAdjust="spacingAndGlyphs" stroke="#111" stroke-width="0.22" >1550</text>
<text x="166.21" y="178.80" font-size="8.2" text-anchor="middle" style="font-family:'Liberation Sans',sans-serif;font-weight:bold" fill="#111" textLength="16.60" lengthAdjust="spacingAndGlyphs" stroke="#111" stroke-width="0.22" >1555</text>
<text x="190.99" y="178.80" font-size="8.2" text-anchor="middle" style="font-family:'Liberation Sans',sans-serif;font-weight:bold" fill="#111" textLength="16.60" lengthAdjust="spacingAndGlyphs" stroke="#111" stroke-width="0.22" >1560</text>
<text x="215.77" y="178.80" font-size="8.2" text-anchor="middle" style="font-family:'Liberation Sans',sans-serif;font-weight:bold" fill="#111" textLength="16.60" lengthAdjust="spacingAndGlyphs" stroke="#111" stroke-width="0.22" >1565</text>
<text x="240.55" y="178.80" font-size="8.2" text-anchor="middle" style="font-family:'Liberation Sans',sans-serif;font-weight:bold" fill="#111" textLength="16.60" lengthAdjust="spacingAndGlyphs" stroke="#111" stroke-width="0.22" >1570</text>
<text x="141.30" y="191.60" font-size="9.9" text-anchor="middle" style="font-family:'Liberation Sans',sans-serif;font-weight:bold" fill="#111" textLength="75.60" lengthAdjust="spacingAndGlyphs" stroke="#111" stroke-width="0.22" >Wavelength (nm)</text>
<text x="142.00" y="13.60" font-size="12.2" text-anchor="middle" style="font-family:'Liberation Serif',serif;font-weight:bold" fill="#111" textLength="89.00" lengthAdjust="spacingAndGlyphs" >From right to left</text>
<text x="15.50" y="20.90" font-size="14.2" text-anchor="start" style="font-family:'Liberation Serif',serif;font-weight:bold" fill="#111" textLength="17.40" lengthAdjust="spacingAndGlyphs" >(a)</text>
<line x1="242.55" y1="27.80" x2="259.85" y2="27.80" stroke="#98388e" stroke-width="1.55"/>
<text x="261.15" y="30.10" font-size="5.5" text-anchor="start" style="font-family:'Liberation Sans',sans-serif;font-weight:bold" fill="#151515" textLength="17.30" lengthAdjust="spacingAndGlyphs" stroke="#151515" stroke-width="0.22" >-399 μm</text>
<line x1="242.55" y1="37.31" x2="259.85" y2="37.31" stroke="#2cb84c" stroke-width="1.55"/>
<text x="261.15" y="39.61" font-size="5.5" text-anchor="start" style="font-family:'Liberation Sans',sans-serif;font-weight:bold" fill="#151515" textLength="17.30" lengthAdjust="spacingAndGlyphs" stroke="#151515" stroke-width="0.22" >-342 μm</text>
<line x1="242.55" y1="46.82" x2="259.85" y2="46.82" stroke="#9a6e30" stroke-width="1.55"/>
<text x="261.15" y="49.12" font-size="5.5" text-anchor="start" style="font-family:'Liberation Sans',sans-serif;font-weight:bold" fill="#151515" textLength="17.30" lengthAdjust="spacingAndGlyphs" stroke="#151515" stroke-width="0.22" >-285 μm</text>
<line x1="242.55" y1="56.33" x2="259.85" y2="56.33" stroke="#2a98a2" stroke-width="1.55"/>
<text x="261.15" y="58.63" font-size="5.5" text-anchor="start" style="font-family:'Liberation Sans',sans-serif;font-weight:bold" fill="#151515" textLength="17.30" lengthAdjust="spacingAndGlyphs" stroke="#151515" stroke-width="0.22" >-228 μm</text>
<line x1="242.55" y1="65.84" x2="259.85" y2="65.84" stroke="#4274b2" stroke-width="1.55"/>
<text x="261.15" y="68.14" font-size="5.5" text-anchor="start" style="font-family:'Liberation Sans',sans-serif;font-weight:bold" fill="#151515" textLength="17.30" lengthAdjust="spacingAndGlyphs" stroke="#151515" stroke-width="0.22" >-171 μm</text>
<line x1="242.55" y1="75.35" x2="259.85" y2="75.35" stroke="#969626" stroke-width="1.55"/>
<text x="261.15" y="77.65" font-size="5.5" text-anchor="start" style="font-family:'Liberation Sans',sans-serif;font-weight:bold" fill="#151515" textLength="17.30" lengthAdjust="spacingAndGlyphs" stroke="#151515" stroke-width="0.22" >-114 μm</text>
<line x1="242.55" y1="84.86" x2="259.85" y2="84.86" stroke="#842222" stroke-width="1.55"/>
<text x="261.15" y="87.16" font-size="5.5" text-anchor="start" style="font-family:'Liberation Sans',sans-serif;font-weight:bold" fill="#151515" textLength="14.90" lengthAdjust="spacingAndGlyphs" stroke="#151515" stroke-width="0.22" >-57 μm</text>
<line x1="242.55" y1="94.37" x2="259.85" y2="94.37" stroke="#661468" stroke-width="1.55"/>
<text x="261.15" y="96.67" font-size="5.5" text-anchor="start" style="font-family:'Liberation Sans',sans-serif;font-weight:bold" fill="#151515" textLength="10.10" lengthAdjust="spacingAndGlyphs" stroke="#151515" stroke-width="0.22" >0 μm</text>
<line x1="242.55" y1="103.88" x2="259.85" y2="103.88" stroke="#8838d0" stroke-width="1.55"/>
<text x="261.15" y="106.18" font-size="5.5" text-anchor="start" style="font-family:'Liberation Sans',sans-serif;font-weight:bold" fill="#151515" textLength="12.50" lengthAdjust="spacingAndGlyphs" stroke="#151515" stroke-width="0.22" >57 μm</text>
<line x1="242.55" y1="113.39" x2="259.85" y2="113.39" stroke="#16146e" stroke-width="1.55"/>
<text x="261.15" y="115.69" font-size="5.5" text-anchor="start" style="font-family:'Liberation Sans',sans-serif;font-weight:bold" fill="#151515" textLength="14.90" lengthAdjust="spacingAndGlyphs" stroke="#151515" stroke-width="0.22" >114 μm</text>
<line x1="242.55" y1="122.90" x2="259.85" y2="122.90" stroke="#24802c" stroke-width="1.55"/>
<text x="261.15" y="125.20" font-size="5.5" text-anchor="start" style="font-family:'Liberation Sans',sans-serif;font-weight:bold" fill="#151515" textLength="14.90" lengthAdjust="spacingAndGlyphs" stroke="#151515" stroke-width="0.22" >171 μm</text>
<line x1="242.55" y1="132.41" x2="259.85" y2="132.41" stroke="#d030d0" stroke-width="1.55"/>
<text x="261.15" y="134.71" font-size="5.5" text-anchor="start" style="font-family:'Liberation Sans',sans-serif;font-weight:bold" fill="#151515" textLength="14.90" lengthAdjust="spacingAndGlyphs" stroke="#151515" stroke-width="0.22" >228 μm</text>
<line x1="242.55" y1="141.92" x2="259.85" y2="141.92" stroke="#2430d0" stroke-width="1.55"/>
<text x="261.15" y="144.22" font-size="5.5" text-anchor="start" style="font-family:'Liberation Sans',sans-serif;font-weight:bold" fill="#151515" textLength="14.90" lengthAdjust="spacingAndGlyphs" stroke="#151515" stroke-width="0.22" >285 μm</text>
<line x1="242.55" y1="151.43" x2="259.85" y2="151.43" stroke="#cc2222" stroke-width="1.55"/>
<text x="261.15" y="153.73" font-size="5.5" text-anchor="start" style="font-family:'Liberation Sans',sans-serif;font-weight:bold" fill="#151515" textLength="14.90" lengthAdjust="spacingAndGlyphs" stroke="#151515" stroke-width="0.22" >342 μm</text>
<line x1="242.55" y1="160.94" x2="259.85" y2="160.94" stroke="#161616" stroke-width="1.55"/>
<text x="261.15" y="163.24" font-size="5.5" text-anchor="start" style="font-family:'Liberation Sans',sans-serif;font-weight:bold" fill="#151515" textLength="14.90" lengthAdjust="spacingAndGlyphs" stroke="#151515" stroke-width="0.22" >399 μm</text>
<polyline points="310.25,27.88 311.25,27.99 312.25,27.70 313.25,27.79 314.25,27.82 315.26,27.60 316.26,27.83 317.26,27.55 318.10,27.69 319.26,27.49 320.26,27.66 321.26,27.47 322.26,27.47 323.27,27.29 324.27,27.29 325.10,27.24 326.27,26.70 327.10,26.41 328.27,27.96 329.27,29.48 330.27,31.68 331.28,33.18 332.28,34.33 333.28,33.82 334.28,33.02 335.28,31.91 336.28,30.76 337.00,30.37 337.28,30.44 338.29,31.79 338.60,31.94 339.29,31.40 340.29,30.87 341.29,30.63 342.29,30.02 343.29,29.92 344.29,29.42 345.29,29.10 346.30,28.95 347.30,28.62 348.30,28.48 349.30,28.16 350.30,28.22 351.30,27.87 352.30,27.89 353.31,27.53 354.31,27.62 355.31,27.56 356.31,27.26 357.31,27.02 358.31,27.01 359.31,26.98 360.31,26.75 361.31,26.76 362.32,26.53 363.32,26.57 364.32,26.60 365.32,26.45 366.32,26.48 367.32,26.27 368.32,26.47 369.10,26.22 370.33,26.45 371.33,26.45 372.33,26.41 373.33,26.26 374.33,26.16 375.33,26.16 376.33,26.27 377.33,26.17 378.34,26.28 379.34,26.00 380.10,26.11 381.34,26.17 382.34,26.02 383.34,25.94 384.34,25.72 385.35,25.68 386.35,25.66 387.10,25.83 388.35,25.38 389.10,24.95 389.35,25.38 390.35,26.42 391.35,28.53 392.35,30.76 393.36,32.41 394.36,33.83 395.36,33.07 396.36,31.75 397.36,30.60 398.36,29.62 399.00,29.13 399.36,29.59 400.36,30.64 401.37,30.57 402.37,29.90 403.37,29.36 404.37,29.10 405.37,28.57 406.37,28.38 407.37,28.16 408.37,27.82 409.38,27.53 410.38,27.17 411.38,27.13 412.38,26.82 413.38,26.83 414.38,26.52 415.38,26.53 416.38,26.34 417.39,26.23 418.39,26.21 419.39,25.93 420.39,25.82 421.39,25.96 422.39,25.66 423.39,25.73 424.39,25.67 425.40,25.48 426.40,25.31 427.40,25.25 428.40,25.47 429.40,25.20 430.40,25.30 431.10,25.30 431.40,25.16 432.40,25.26 433.41,25.16 434.41,25.26 435.41,25.24 436.41,25.19 437.41,25.12 438.41,25.18 439.41,25.10 440.42,25.07 441.42,25.09 442.10,25.29 442.42,25.16 443.42,25.24 444.42,24.91 445.42,25.15 446.42,24.95 447.42,24.99 448.43,24.87 449.10,24.89 449.43,24.67 450.43,24.45 451.10,24.07 451.43,24.38 452.43,25.73 453.43,28.02 454.43,30.42 455.43,32.45 456.44,34.11 457.44,33.39 458.44,32.38 459.44,30.90 460.44,29.79 461.40,29.09 462.44,30.38 463.06,30.85 463.44,30.66 464.44,30.18 465.45,29.77 466.45,28.99 467.45,28.75 468.45,28.38 469.45,28.08 470.45,27.61 471.45,27.48 472.46,27.11 473.46,27.03 474.46,26.54 475.46,26.65 476.46,26.31 477.46,26.16 478.46,25.92 479.46,25.85 480.47,25.87 481.47,25.72 482.47,25.41 483.47,25.35 484.47,25.17 485.47,25.08 486.47,25.00 487.48,24.96 488.48,25.11 489.48,25.07 490.48,24.98 491.48,24.85 492.48,24.85 493.10,24.94 493.48,24.98 494.48,24.92 495.49,24.89 496.49,24.74 497.49,24.88 498.49,24.95 499.49,24.93 500.49,24.70 501.49,24.90 502.49,24.78 503.50,24.72 504.10,24.98 504.50,24.88 505.50,24.87 506.50,24.63 507.50,24.81" fill="none" stroke="#98388e" stroke-width="1.3" stroke-linejoin="round" />
<polyline points="310.25,37.64 311.25,37.61 312.25,37.53 313.25,37.54 314.25,37.51 315.26,37.42 316.26,37.35 317.26,37.45 318.26,37.42 319.26,37.42 320.10,37.22 321.26,37.31 322.26,37.03 323.27,37.00 324.27,36.56 325.27,36.67 326.27,36.48 327.10,36.22 328.27,35.19 329.10,34.22 330.27,35.75 331.28,37.82 332.28,39.93 333.28,41.88 334.20,43.13 335.28,42.26 336.28,41.15 337.28,39.85 338.29,39.00 338.90,38.61 339.29,39.56 340.29,43.01 341.29,42.35 342.29,41.63 343.29,41.00 344.29,40.71 345.29,40.35 346.30,39.81 347.30,39.55 348.30,39.32 349.30,39.03 350.30,38.52 351.30,38.45 352.30,38.10 353.31,37.94 354.31,38.00 355.31,37.73 356.31,37.65 357.31,37.48 358.31,37.31 359.31,37.14 360.31,37.05 361.31,37.08 362.32,36.90 363.32,36.69 364.32,36.54 365.32,36.52 366.32,36.59 367.32,36.46 368.32,36.49 369.32,36.50 370.33,36.26 371.10,36.42 372.33,36.20 373.33,36.43 374.33,36.21 375.33,36.23 376.33,36.43 377.33,36.23 378.34,36.17 379.34,36.37 380.34,36.26 381.34,36.34 382.10,36.17 383.34,36.08 384.34,36.09 385.35,35.78 386.35,35.77 387.35,35.36 388.35,35.44 389.10,35.16 389.35,35.11 390.35,33.80 391.10,33.18 391.35,33.67 392.35,34.96 393.36,37.18 394.36,39.35 395.36,41.36 396.20,42.37 397.36,41.57 398.36,40.45 399.36,39.06 400.36,38.00 400.90,37.82 401.37,39.19 402.30,42.48 403.37,41.55 404.37,41.11 405.37,40.50 406.37,40.16 407.37,39.53 408.37,39.22 409.38,38.86 410.38,38.45 411.38,38.21 412.38,38.00 413.38,37.84 414.38,37.50 415.38,37.27 416.38,37.30 417.39,36.85 418.39,36.96 419.39,36.79 420.39,36.61 421.39,36.44 422.39,36.41 423.39,36.33 424.39,36.16 425.40,36.07 426.40,35.75 427.40,35.77 428.40,35.65 429.40,35.87 430.40,35.81 431.40,35.54 432.40,35.67 433.10,35.66 433.41,35.49 434.41,35.59 435.41,35.69 436.41,35.65 437.41,35.53 438.41,35.68 439.41,35.52 440.42,35.59 441.42,35.54 442.42,35.71 443.42,35.60 444.10,35.65 444.42,35.58 445.42,35.39 446.42,35.44 447.42,35.20 448.43,35.03 449.43,34.76 450.43,34.61 451.10,34.69 451.43,34.54 452.43,33.36 453.10,32.64 453.43,32.89 454.43,34.44 455.43,36.75 456.44,39.15 457.44,41.60 458.40,42.85 459.44,42.02 460.44,40.64 461.44,39.28 462.44,38.08 463.29,37.58 464.44,42.22 464.75,42.83 465.45,42.32 466.45,41.81 467.45,40.94 468.45,40.40 469.45,39.92 470.45,39.35 471.45,38.98 472.46,38.65 473.46,38.31 474.46,38.19 475.46,37.70 476.46,37.43 477.46,37.43 478.46,37.09 479.46,37.03 480.47,36.81 481.47,36.71 482.47,36.40 483.47,36.18 484.47,36.21 485.47,35.97 486.47,35.86 487.48,35.78 488.48,35.70 489.48,35.46 490.48,35.42 491.48,35.54 492.48,35.38 493.48,35.28 494.48,35.38 495.10,35.26 495.49,35.42 496.49,35.18 497.49,35.43 498.49,35.35 499.49,35.28 500.49,35.47 501.49,35.25 502.49,35.24 503.50,35.19 504.50,35.34 505.50,35.41 506.10,35.38 506.50,35.27 507.50,35.30" fill="none" stroke="#2cb84c" stroke-width="1.3" stroke-linejoin="round" />
<polyline points="310.25,44.98 311.25,45.01 312.25,45.10 313.25,45.18 314.25,45.04 315.26,45.04 316.26,45.04 317.26,44.89 318.26,45.05 319.26,44.96 320.26,44.81 321.00,44.80 321.26,44.91 322.26,44.63 323.27,44.41 324.27,44.43 325.27,44.12 326.27,43.93 327.27,43.82 328.00,43.82 328.27,43.35 329.27,42.05 330.00,41.19 330.27,41.61 331.28,43.36 332.28,45.85 333.28,48.28 334.28,50.25 334.90,50.99 335.28,50.77 336.28,49.56 337.28,48.29 338.29,46.93 339.20,46.14 340.29,49.62 340.90,51.55 341.29,51.27 342.29,50.45 343.29,49.92 344.29,49.32 345.29,48.74 346.30,48.28 347.30,47.80 348.30,47.49 349.30,46.90 350.30,46.77 351.30,46.48 352.30,46.20 353.31,45.86 354.31,45.59 355.31,45.57 356.31,45.47 357.31,45.14 358.31,44.98 359.31,44.84 360.31,44.64 361.31,44.68 362.32,44.63 363.32,44.45 364.32,44.19 365.32,44.20 366.32,43.92 367.32,44.09 368.32,43.87 369.32,43.72 370.33,43.88 371.33,43.70 372.00,43.73 372.33,43.65 373.33,43.76 374.33,43.78 375.33,43.84 376.33,43.58 377.33,43.82 378.34,43.57 379.34,43.59 380.34,43.70 381.34,43.60 382.34,43.58 383.00,43.64 383.34,43.50 384.34,43.56 385.35,43.20 386.35,43.21 387.35,43.01 388.35,42.74 389.35,42.44 390.00,42.61 390.35,42.08 391.35,40.84 392.00,40.16 392.35,40.46 393.36,42.43 394.36,44.99 395.36,47.63 396.36,49.67 396.90,50.44 397.36,50.10 398.36,48.74 399.36,47.38 400.36,46.01 401.20,45.18 402.37,49.56 402.90,50.95 403.37,50.76 404.37,49.69 405.37,49.12 406.37,48.38 407.37,47.93 408.37,47.49 409.38,47.05 410.38,46.56 411.38,46.16 412.38,45.79 413.38,45.56 414.38,45.26 415.38,45.00 416.38,44.96 417.39,44.69 418.39,44.50 419.39,44.26 420.39,44.28 421.39,43.97 422.39,43.84 423.39,43.78 424.39,43.68 425.40,43.64 426.40,43.45 427.40,43.42 428.40,43.33 429.40,43.20 430.40,43.15 431.40,42.90 432.40,42.91 433.41,42.83 434.00,43.10 434.41,43.05 435.41,43.01 436.41,42.89 437.41,42.91 438.41,42.84 439.41,42.98 440.42,43.08 441.42,42.86 442.42,42.76 443.42,42.80 444.42,42.85 445.00,43.02 445.42,42.95 446.42,42.71 447.42,42.44 448.43,42.25 449.43,42.08 450.43,42.12 451.43,41.89 452.00,42.00 452.43,41.60 453.43,40.16 454.00,39.51 454.43,40.13 455.43,41.67 456.44,44.33 457.44,47.48 458.44,49.88 459.10,50.82 459.44,50.55 460.44,49.20 461.44,47.78 462.44,46.06 463.44,45.00 464.44,48.31 465.34,51.61 466.45,50.70 467.45,49.79 468.45,49.20 469.45,48.56 470.45,47.75 471.45,47.18 472.46,46.78 473.46,46.47 474.46,46.02 475.46,45.56 476.46,45.51 477.46,45.22 478.46,44.87 479.46,44.51 480.47,44.57 481.47,44.28 482.47,43.96 483.47,43.86 484.47,43.77 485.47,43.67 486.47,43.37 487.48,43.26 488.48,42.99 489.48,42.88 490.48,43.00 491.48,42.75 492.48,42.61 493.48,42.72 494.48,42.55 495.49,42.56 496.00,42.64 496.49,42.68 497.49,42.69 498.49,42.71 499.49,42.63 500.49,42.51 501.49,42.72 502.49,42.50 503.50,42.63 504.50,42.61 505.50,42.70 506.50,42.71 507.00,42.56 507.50,42.65" fill="none" stroke="#9a6e30" stroke-width="1.3" stroke-linejoin="round" />
<polyline points="310.25,51.56 311.25,51.46 312.25,51.33 313.25,51.55 314.25,51.42 315.26,51.23 316.26,51.26 317.26,51.47 318.26,51.20 319.26,51.23 320.26,51.33 321.00,51.32 321.26,51.23 322.26,51.14 323.27,50.74 324.27,50.55 325.27,50.63 326.27,50.39 327.27,49.99 328.00,49.91 328.27,49.75 329.27,48.61 330.00,47.60 330.27,48.16 331.28,50.77 332.28,53.89 333.28,56.42 334.28,56.12 335.28,55.31 336.28,54.31 337.28,53.57 338.29,52.55 339.20,52.33 340.29,56.27 341.29,55.79 342.29,55.42 343.29,54.71 344.29,54.36 345.29,53.82 346.30,53.67 347.30,53.37 348.30,53.08 349.30,52.51 350.30,52.54 351.30,52.22 352.30,52.11 353.31,51.83 354.31,51.70 355.31,51.54 356.31,51.47 357.31,51.12 358.31,51.00 359.31,51.04 360.31,50.83 361.31,50.75 362.32,50.51 363.32,50.64 364.32,50.32 365.32,50.49 366.32,50.42 367.32,50.25 368.32,50.09 369.32,50.22 370.33,50.04 371.33,50.09 372.00,49.97 372.33,50.24 373.33,50.09 374.33,50.01 375.33,49.91 376.33,50.09 377.33,50.11 378.34,50.09 379.34,49.84 380.34,49.90 381.34,49.87 382.34,50.00 383.00,49.79 383.34,49.90 384.34,49.89 385.35,49.66 386.35,49.22 387.35,49.05 388.35,48.88 389.35,48.92 390.00,48.83 390.35,48.51 391.35,47.10 392.00,46.42 392.35,47.05 393.36,49.69 394.36,53.25 395.36,55.71 396.36,55.46 397.36,54.64 398.36,53.58 399.36,52.52 400.36,51.45 401.20,51.18 402.37,55.80 403.37,55.09 404.37,54.64 405.37,53.88 406.37,53.64 407.37,53.05 408.37,52.75 409.38,52.26 410.38,51.96 411.38,51.69 412.38,51.43 413.38,51.13 414.38,51.04 415.38,51.03 416.38,50.76 417.39,50.70 418.39,50.51 419.39,50.41 420.39,50.35 421.39,50.15 422.39,49.88 423.39,49.75 424.39,49.69 425.40,49.47 426.40,49.45 427.40,49.58 428.40,49.52 429.40,49.28 430.40,49.38 431.40,49.35 432.40,49.36 433.41,49.31 434.00,49.22 434.41,49.08 435.41,49.30 436.41,49.13 437.41,49.22 438.41,49.13 439.41,49.17 440.42,49.30 441.42,49.03 442.42,49.14 443.42,49.17 444.42,49.13 445.00,49.25 445.42,49.04 446.42,49.08 447.42,48.84 448.43,48.75 449.43,48.28 450.43,48.15 451.43,48.05 452.00,48.19 452.43,47.53 453.43,46.21 454.00,45.81 454.43,46.58 455.43,48.91 456.44,52.87 457.44,55.84 458.44,55.71 459.44,54.82 460.44,53.70 461.44,52.39 462.44,51.39 463.44,50.63 464.44,54.81 464.82,56.00 465.45,55.55 466.45,55.09 467.45,54.37 468.45,53.81 469.45,53.33 470.45,52.87 471.45,52.50 472.46,52.01 473.46,51.61 474.46,51.32 475.46,51.04 476.46,50.92 477.46,50.63 478.46,50.43 479.46,50.38 480.47,50.38 481.47,50.15 482.47,49.89 483.47,49.91 484.47,49.58 485.47,49.41 486.47,49.34 487.48,49.26 488.48,49.24 489.48,49.08 490.48,49.09 491.48,48.83 492.48,49.05 493.48,48.83 494.48,48.97 495.49,48.70 496.00,48.96 496.49,48.76 497.49,48.96 498.49,48.94 499.49,48.90 500.49,48.77 501.49,48.69 502.49,48.74 503.50,48.97 504.50,48.73 505.50,48.89 506.50,48.87 507.00,48.89 507.50,48.70" fill="none" stroke="#2a98a2" stroke-width="1.3" stroke-linejoin="round" />
<polyline points="310.25,62.49 311.25,62.45 312.25,62.70 313.25,62.49 314.25,62.55 315.26,62.50 316.26,62.36 317.26,62.28 318.26,62.24 319.20,62.49 320.26,62.10 321.26,62.15 322.26,61.72 323.27,61.57 324.27,61.14 325.27,61.14 326.20,60.84 327.27,59.21 328.20,57.87 329.27,59.81 330.27,62.76 331.28,65.71 332.10,67.00 333.28,66.43 334.28,65.81 335.28,64.78 336.28,63.90 337.28,63.16 338.29,62.67 339.20,67.57 340.29,66.98 341.29,66.38 342.29,66.01 343.29,65.30 344.29,65.09 345.29,64.78 346.30,64.27 347.30,63.91 348.30,63.77 349.30,63.43 350.30,63.32 351.30,63.21 352.30,62.84 353.31,62.68 354.31,62.65 355.31,62.42 356.31,62.32 357.31,62.27 358.31,62.03 359.31,61.89 360.31,61.87 361.31,61.79 362.32,61.84 363.32,61.63 364.32,61.40 365.32,61.38 366.32,61.50 367.32,61.39 368.32,61.46 369.32,61.46 370.20,61.41 371.33,61.15 372.33,61.40 373.33,61.25 374.33,61.14 375.33,61.10 376.33,61.30 377.33,61.08 378.34,61.02 379.34,61.06 380.34,61.26 381.20,61.09 382.34,61.02 383.34,60.60 384.34,60.48 385.35,60.18 386.35,59.92 387.35,59.87 388.20,59.66 389.35,57.77 390.20,56.82 391.35,58.95 392.35,61.88 393.36,64.76 394.10,66.35 394.36,66.20 395.36,65.46 396.36,64.80 397.36,63.96 398.36,62.97 399.36,62.09 400.36,61.62 401.20,66.99 402.37,66.24 403.37,65.50 404.37,65.19 405.37,64.76 406.37,64.28 407.37,63.94 408.37,63.44 409.38,63.31 410.38,62.80 411.38,62.57 412.38,62.47 413.38,62.36 414.38,61.92 415.38,61.80 416.38,61.60 417.39,61.60 418.39,61.38 419.39,61.27 420.39,61.32 421.39,61.14 422.39,61.14 423.39,60.86 424.39,60.85 425.40,60.55 426.40,60.78 427.40,60.49 428.40,60.52 429.40,60.50 430.40,60.61 431.40,60.45 432.20,60.60 433.41,60.46 434.41,60.33 435.41,60.51 436.41,60.30 437.41,60.55 438.41,60.37 439.41,60.28 440.42,60.51 441.42,60.30 442.42,60.31 443.20,60.29 444.42,60.22 445.42,59.82 446.42,59.69 447.42,59.38 448.43,59.37 449.43,58.93 450.20,59.03 451.43,56.96 452.20,55.95 453.43,58.37 454.43,61.51 455.43,64.63 456.26,66.41 457.44,65.68 458.44,65.09 459.44,63.82 460.44,62.79 461.44,61.99 462.44,61.32 462.91,61.20 463.44,65.81 464.44,66.64 465.45,65.95 466.45,65.48 467.45,64.90 468.45,64.40 469.45,64.12 470.45,63.65 471.45,63.36 472.46,63.07 473.46,62.57 474.46,62.52 475.46,62.12 476.46,61.80 477.46,61.89 478.46,61.46 479.46,61.28 480.47,61.23 481.47,61.08 482.47,61.15 483.47,60.96 484.47,60.68 485.47,60.58 486.47,60.57 487.48,60.46 488.48,60.32 489.48,60.21 490.48,60.04 491.48,60.04 492.48,60.15 493.48,60.11 494.20,60.18 494.48,60.21 495.49,60.23 496.49,59.98 497.49,59.94 498.49,60.20 499.49,60.10 500.49,59.97 501.49,60.13 502.49,59.99 503.50,59.99 504.50,60.03 505.20,60.08 505.50,60.10 506.50,59.76 507.50,59.78" fill="none" stroke="#4274b2" stroke-width="1.3" stroke-linejoin="round" />
<polyline points="310.25,72.94 311.25,72.86 312.25,72.90 313.25,72.92 314.25,72.64 315.00,72.77 315.26,72.82 316.26,72.78 317.26,72.71 318.26,72.50 319.26,72.68 320.26,72.57 321.26,72.34 322.00,72.37 322.26,72.49 323.27,71.94 324.00,71.82 324.27,72.26 325.27,73.82 326.27,75.70 327.27,77.65 327.80,78.11 328.27,78.04 329.27,77.60 330.27,76.76 331.28,76.07 332.28,75.32 333.28,74.64 334.28,73.99 335.28,73.60 336.28,76.31 337.28,76.11 338.29,75.57 339.29,75.34 340.29,75.10 341.29,74.67 342.29,74.31 343.29,74.17 344.29,73.85 345.29,73.56 346.30,73.46 347.30,73.14 348.30,73.20 349.30,72.89 350.30,72.83 351.30,72.90 352.30,72.73 353.31,72.64 354.31,72.46 355.31,72.34 356.31,72.26 357.31,72.24 358.31,71.91 359.31,72.01 360.31,71.79 361.31,71.72 362.32,71.85 363.32,71.74 364.32,71.79 365.32,71.77 366.00,71.67 366.32,71.54 367.32,71.46 368.32,71.61 369.32,71.65 370.33,71.49 371.33,71.40 372.33,71.36 373.33,71.40 374.33,71.55 375.33,71.31 376.33,71.36 377.00,71.36 377.33,71.49 378.34,71.54 379.34,71.18 380.34,71.16 381.34,71.37 382.34,71.33 383.34,71.02 384.00,71.06 384.34,71.05 385.35,70.68 386.00,70.56 386.35,70.93 387.35,72.62 388.35,74.84 389.35,76.73 389.80,77.27 390.35,77.04 391.35,76.69 392.35,76.04 393.36,75.12 394.36,74.49 395.36,73.74 396.36,73.01 397.36,72.63 398.36,75.58 399.36,75.39 400.36,74.82 401.37,74.25 402.37,73.92 403.37,73.76 404.37,73.37 405.37,73.21 406.37,72.81 407.37,72.78 408.37,72.59 409.38,72.19 410.38,72.19 411.38,71.92 412.38,71.95 413.38,71.87 414.38,71.76 415.38,71.47 416.38,71.31 417.39,71.38 418.39,71.24 419.39,71.01 420.39,70.94 421.39,70.99 422.39,70.77 423.39,70.89 424.39,70.72 425.40,70.70 426.40,70.72 427.40,70.74 428.00,70.80 428.40,70.57 429.40,70.78 430.40,70.61 431.40,70.62 432.40,70.72 433.41,70.73 434.41,70.69 435.41,70.78 436.41,70.54 437.41,70.57 438.41,70.67 439.00,70.54 439.41,70.49 440.42,70.48 441.42,70.62 442.42,70.59 443.42,70.50 444.42,70.54 445.42,70.45 446.00,70.28 446.42,70.20 447.42,70.03 448.00,69.70 448.43,70.30 449.43,72.12 450.43,74.66 451.43,76.94 451.95,77.52 452.43,77.58 453.43,77.01 454.43,76.16 455.43,75.23 456.44,74.33 457.44,73.62 458.44,72.91 459.44,72.32 459.86,72.27 460.44,74.31 460.90,75.91 461.44,75.39 462.44,74.86 463.44,74.49 464.44,74.10 465.45,73.65 466.45,73.44 467.45,72.99 468.45,72.74 469.45,72.55 470.45,72.40 471.45,72.21 472.46,71.91 473.46,71.77 474.46,71.77 475.46,71.64 476.46,71.42 477.46,71.12 478.46,71.10 479.46,71.02 480.47,70.78 481.47,70.59 482.47,70.80 483.47,70.69 484.47,70.37 485.47,70.42 486.47,70.42 487.48,70.29 488.48,70.20 489.48,70.40 490.00,70.41 490.48,70.30 491.48,70.19 492.48,70.28 493.48,70.18 494.48,70.46 495.49,70.17 496.49,70.24 497.49,70.39 498.49,70.19 499.49,70.18 500.49,70.17 501.00,70.20 501.49,70.31 502.49,70.38 503.50,70.13 504.50,70.09 505.50,70.24 506.50,70.10 507.50,70.05" fill="none" stroke="#969626" stroke-width="1.3" stroke-linejoin="round" />
<polyline points="310.25,83.38 311.25,83.40 312.25,83.62 313.25,83.33 314.25,83.35 315.26,83.49 316.26,83.44 317.26,83.29 318.26,82.97 319.26,82.93 320.26,82.64 321.26,82.38 322.26,82.33 323.27,81.32 324.27,80.16 325.27,81.39 326.27,83.71 327.27,86.36 328.27,87.82 329.27,88.08 330.27,87.52 331.28,86.98 332.28,86.43 333.28,85.97 334.28,85.69 335.28,85.11 336.28,89.64 337.28,89.17 338.29,88.46 339.29,88.05 340.29,87.38 341.29,86.85 342.29,86.50 343.29,86.24 344.29,85.91 345.29,85.50 346.30,85.04 347.30,85.03 348.30,84.75 349.30,84.64 350.30,84.47 351.30,84.11 352.30,84.12 353.31,83.96 354.31,83.62 355.31,83.50 356.31,83.35 357.31,83.21 358.31,83.09 359.31,82.90 360.31,82.84 361.31,82.98 362.32,82.76 363.32,82.79 364.32,82.83 365.32,82.76 366.30,82.58 367.32,82.79 368.32,82.74 369.32,82.79 370.33,82.69 371.33,82.69 372.33,82.69 373.33,82.50 374.33,82.62 375.33,82.52 376.33,82.65 377.30,82.42 378.34,82.44 379.34,82.23 380.34,82.20 381.34,81.87 382.34,81.85 383.34,81.71 384.30,81.62 385.35,80.19 386.30,79.38 387.35,80.92 388.35,83.30 389.35,85.87 390.35,87.48 391.35,87.65 392.35,87.10 393.36,86.53 394.36,85.90 395.36,85.48 396.36,85.01 397.36,84.72 398.36,89.46 399.36,88.85 400.36,88.12 401.37,87.44 402.37,86.95 403.37,86.34 404.37,86.14 405.37,85.55 406.37,85.13 407.37,84.80 408.37,84.72 409.38,84.29 410.38,84.13 411.38,83.90 412.38,83.84 413.38,83.71 414.38,83.35 415.38,83.30 416.38,83.22 417.39,82.92 418.39,82.90 419.39,82.70 420.39,82.44 421.39,82.52 422.39,82.33 423.39,82.10 424.39,82.20 425.40,82.23 426.40,82.10 427.40,82.07 428.30,82.04 429.40,82.18 430.40,82.10 431.40,81.95 432.40,81.99 433.41,81.99 434.41,82.17 435.41,82.08 436.41,81.89 437.41,82.14 438.41,81.85 439.30,82.02 440.42,81.86 441.42,81.81 442.42,81.54 443.42,81.25 444.42,81.22 445.42,81.18 446.30,81.09 447.42,79.64 448.30,78.66 449.43,80.51 450.43,82.99 451.43,85.68 452.43,87.98 453.43,88.08 454.43,87.44 455.43,86.84 456.44,86.29 457.44,85.73 458.44,84.95 459.44,84.57 459.84,84.46 460.44,88.07 460.88,90.29 461.44,89.91 462.44,89.08 463.44,88.40 464.44,87.57 465.45,87.23 466.45,86.71 467.45,86.10 468.45,85.74 469.45,85.16 470.45,85.04 471.45,84.61 472.46,84.40 473.46,84.18 474.46,83.79 475.46,83.76 476.46,83.35 477.46,83.09 478.46,83.04 479.46,82.97 480.47,82.78 481.47,82.62 482.47,82.32 483.47,82.32 484.47,82.09 485.47,81.87 486.47,81.95 487.48,81.96 488.48,81.80 489.48,81.84 490.30,81.73 491.48,81.73 492.48,81.77 493.48,81.80 494.48,81.79 495.49,81.67 496.49,81.64 497.49,81.74 498.49,81.86 499.49,81.87 500.49,81.71 501.30,81.71 502.49,81.68 503.50,81.43 504.50,81.40 505.50,81.32 506.50,80.93 507.50,80.93" fill="none" stroke="#842222" stroke-width="1.3" stroke-linejoin="round" />
<polyline points="310.25,92.97 311.25,92.95 312.25,92.91 313.25,92.89 314.25,92.72 315.26,92.87 316.00,92.88 316.26,92.58 317.26,92.79 318.26,92.54 319.26,92.32 320.26,92.21 321.26,92.34 322.26,92.21 323.00,91.99 323.27,92.00 324.27,91.42 325.00,91.17 325.27,91.17 326.27,92.45 327.27,93.88 328.27,95.70 329.27,97.45 330.27,98.95 331.10,99.79 332.28,98.95 333.28,97.96 334.28,97.04 335.28,96.31 336.28,97.71 337.20,99.55 338.29,98.74 339.29,97.92 340.29,97.38 341.29,96.79 342.29,96.44 343.29,95.82 344.29,95.55 345.29,95.02 346.30,94.59 347.30,94.41 348.30,93.99 349.30,93.75 350.30,93.50 351.30,93.49 352.30,93.39 353.31,93.04 354.31,92.85 355.31,92.69 356.31,92.49 357.31,92.43 358.31,92.18 359.31,91.97 360.31,92.07 361.31,91.88 362.32,91.61 363.32,91.81 364.32,91.72 365.32,91.56 366.32,91.62 367.00,91.69 367.32,91.52 368.32,91.51 369.32,91.45 370.33,91.51 371.33,91.53 372.33,91.53 373.33,91.58 374.33,91.30 375.33,91.36 376.33,91.49 377.33,91.46 378.00,91.38 378.34,91.39 379.34,91.21 380.34,91.32 381.34,91.10 382.34,90.95 383.34,90.79 384.34,90.69 385.00,90.90 385.35,90.74 386.35,89.85 387.00,89.64 387.35,89.97 388.35,91.17 389.35,92.90 390.35,95.06 391.35,96.78 392.35,98.34 393.10,99.22 393.36,99.01 394.36,98.21 395.36,97.15 396.36,96.18 397.36,95.55 398.36,97.34 399.20,98.91 400.36,97.96 401.37,97.21 402.37,96.53 403.37,96.10 404.37,95.43 405.37,94.86 406.37,94.44 407.37,94.20 408.37,93.64 409.38,93.49 410.38,92.99 411.38,92.79 412.38,92.52 413.38,92.55 414.38,92.15 415.38,92.00 416.38,91.77 417.39,91.65 418.39,91.62 419.39,91.44 420.39,91.35 421.39,91.22 422.39,90.98 423.39,91.00 424.39,90.65 425.40,90.86 426.40,90.65 427.40,90.54 428.40,90.70 429.00,90.72 429.40,90.57 430.40,90.46 431.40,90.70 432.40,90.65 433.41,90.59 434.41,90.70 435.41,90.39 436.41,90.39 437.41,90.40 438.41,90.36 439.41,90.57 440.00,90.54 440.42,90.35 441.42,90.31 442.42,90.23 443.42,90.28 444.42,90.21 445.42,90.23 446.42,89.97 447.00,90.14 447.42,89.79 448.43,89.14 449.00,88.84 449.43,89.18 450.43,90.60 451.43,92.59 452.43,94.72 453.43,96.69 454.43,98.44 455.34,99.51 456.44,98.79 457.44,97.84 458.44,96.49 459.44,95.75 459.92,95.52 460.44,96.32 461.44,99.17 462.44,98.95 463.44,98.00 464.44,97.18 465.45,96.61 466.45,95.89 467.45,95.24 468.45,94.74 469.45,94.46 470.45,94.01 471.45,93.66 472.46,93.21 473.46,92.77 474.46,92.51 475.46,92.34 476.46,92.21 477.46,91.79 478.46,91.83 479.46,91.59 480.47,91.29 481.47,90.92 482.47,90.98 483.47,90.69 484.47,90.63 485.47,90.48 486.47,90.44 487.48,90.27 488.48,90.40 489.48,90.36 490.48,90.34 491.00,90.23 491.48,90.14 492.48,90.15 493.48,90.12 494.48,90.32 495.49,90.28 496.49,90.28 497.49,90.29 498.49,90.34 499.49,90.24 500.49,90.12 501.49,90.26 502.00,90.10 502.49,90.20 503.50,90.00 504.50,90.15 505.50,89.95 506.50,89.80 507.50,89.94" fill="none" stroke="#661468" stroke-width="1.3" stroke-linejoin="round" />
<polyline points="310.25,104.47 311.25,104.68 312.25,104.58 313.25,104.35 313.90,104.52 314.25,104.45 315.26,104.53 316.26,104.39 317.26,104.31 318.26,104.44 319.26,104.14 320.26,104.33 321.26,104.09 322.26,104.11 323.27,104.03 324.27,104.24 324.90,104.09 325.27,104.14 326.27,103.86 327.27,103.85 328.27,103.64 329.27,103.27 330.27,103.23 331.28,103.17 331.90,102.94 332.28,102.79 333.28,101.43 333.90,100.90 334.28,101.47 335.28,102.96 336.28,105.00 337.28,107.13 338.29,109.46 339.29,111.48 340.29,112.84 341.29,111.11 342.29,108.26 342.60,107.57 343.29,109.39 344.29,112.09 345.29,111.19 346.30,110.45 347.30,109.42 348.30,108.86 349.30,108.00 350.30,107.72 351.30,107.06 352.30,106.67 353.31,106.07 354.31,105.87 355.31,105.46 356.31,105.14 357.31,105.06 358.31,104.58 359.31,104.52 360.31,104.21 361.31,104.30 362.32,104.16 363.32,103.73 364.32,103.72 365.32,103.57 366.32,103.52 367.32,103.40 368.32,103.17 369.32,103.26 370.33,102.94 371.33,102.86 372.33,103.03 373.33,102.76 374.33,102.74 375.33,102.82 375.90,102.75 376.33,102.69 377.33,102.91 378.34,102.74 379.34,102.82 380.34,102.63 381.34,102.82 382.34,102.58 383.34,102.78 384.34,102.67 385.35,102.76 386.35,102.68 386.90,102.62 387.35,102.55 388.35,102.53 389.35,102.24 390.35,101.96 391.35,102.04 392.35,101.85 393.36,101.69 393.90,101.65 394.36,101.13 395.36,99.96 395.90,99.61 396.36,100.15 397.36,101.68 398.36,103.60 399.36,106.28 400.36,108.70 401.37,110.72 402.37,112.09 403.37,109.98 404.37,106.97 405.37,108.64 406.37,111.51 407.37,110.49 408.37,109.56 409.38,108.74 410.38,107.91 411.38,107.08 412.38,106.71 413.38,106.00 414.38,105.71 415.38,105.30 416.38,104.66 417.39,104.46 418.39,104.29 419.39,103.85 420.39,103.67 421.39,103.38 422.39,103.11 423.39,103.00 424.39,102.83 425.40,102.72 426.40,102.68 427.40,102.51 428.40,102.51 429.40,102.30 430.40,102.10 431.40,102.20 432.40,102.02 433.41,101.94 434.41,101.99 435.41,101.90 436.41,101.77 437.41,101.83 437.90,101.73 438.41,101.94 439.41,101.69 440.42,101.92 441.42,101.61 442.42,101.59 443.42,101.75 444.42,101.63 445.42,101.71 446.42,101.58 447.42,101.80 448.43,101.74 448.90,101.74 449.43,101.77 450.43,101.68 451.43,101.43 452.43,101.27 453.43,100.88 454.43,100.75 455.43,100.76 455.90,100.90 456.44,100.24 457.44,99.09 457.90,98.54 458.44,99.24 459.44,100.91 460.44,103.10 461.44,105.99 462.44,108.50 463.44,110.95 464.44,112.68 464.76,113.28 465.45,111.27 466.45,107.84 466.95,106.46 467.45,107.93 468.45,111.55 468.82,112.34 469.45,111.75 470.45,110.42 471.45,109.49 472.46,108.39 473.46,107.83 474.46,107.16 475.46,106.26 476.46,105.90 477.46,105.25 478.46,104.77 479.46,104.45 480.47,104.19 481.47,103.98 482.47,103.72 483.47,103.47 484.47,103.14 485.47,102.96 486.47,102.62 487.48,102.62 488.48,102.38 489.48,102.14 490.48,102.15 491.48,101.81 492.48,101.65 493.48,101.55 494.48,101.47 495.49,101.54 496.49,101.56 497.49,101.33 498.49,101.42 499.49,101.43 499.90,101.42 500.49,101.38 501.49,101.42 502.49,101.25 503.50,101.26 504.50,101.38 505.50,101.32 506.50,101.48 507.50,101.32" fill="none" stroke="#8838d0" stroke-width="1.3" stroke-linejoin="round" />
<polyline points="310.25,118.20 311.25,117.84 312.25,117.68 313.25,117.69 314.25,117.56 315.26,117.46 316.26,117.54 317.26,117.33 318.26,117.45 319.26,117.49 319.90,117.37 320.26,117.38 321.26,117.51 322.26,117.40 323.27,117.27 324.27,117.23 325.27,117.23 326.27,117.31 327.27,117.23 328.27,117.41 329.27,117.33 330.27,117.29 330.90,117.36 331.28,117.47 332.28,117.15 333.28,116.99 334.28,116.89 335.28,116.76 336.28,116.84 336.90,116.73 337.28,116.52 338.29,115.93 338.90,115.66 339.29,116.02 340.29,117.63 341.29,119.32 342.29,120.64 342.83,121.29 343.29,121.29 344.29,122.06 345.02,122.34 345.29,122.34 346.30,123.00 347.30,124.77 348.30,126.83 349.30,126.24 350.30,125.67 351.30,124.77 352.30,124.11 353.30,123.45 354.31,123.40 355.31,122.65 356.31,122.19 357.31,121.73 358.31,121.26 358.90,121.07 359.31,120.50 359.70,119.90 360.31,120.30 360.70,120.62 361.31,120.62 362.32,120.15 363.32,119.82 364.32,119.58 364.90,119.38 365.32,119.24 366.32,119.04 367.32,118.97 368.32,118.85 369.32,118.52 370.33,117.93 371.33,117.77 372.33,117.52 373.30,117.26 374.33,117.29 375.33,117.13 376.33,117.13 377.33,116.88 378.34,117.03 379.34,116.96 380.34,116.83 381.30,116.71 381.90,116.82 382.34,116.70 383.34,116.88 384.34,116.88 385.35,116.84 386.35,116.96 387.35,116.66 388.35,116.88 389.35,116.90 390.35,116.68 391.35,116.74 392.35,116.65 392.90,116.82 393.36,116.83 394.36,116.61 395.36,116.59 396.36,116.34 397.36,116.32 398.36,116.08 398.90,116.26 399.36,115.94 400.36,115.28 400.90,115.12 401.37,115.68 402.37,116.95 403.37,118.43 404.37,119.71 405.31,120.81 406.37,121.23 407.37,121.58 407.75,121.79 408.37,122.09 409.35,122.24 410.38,124.16 411.38,126.16 412.38,125.99 413.38,125.41 414.38,124.46 415.38,123.94 416.38,123.34 417.03,123.12 417.39,122.96 418.39,122.76 419.39,122.23 420.39,121.85 421.39,121.26 422.39,120.76 423.30,120.63 424.20,119.15 425.32,120.07 426.40,119.84 427.40,119.57 428.40,119.24 429.40,118.84 430.02,118.74 430.40,118.76 431.40,118.56 432.40,118.24 433.41,117.98 434.41,117.48 435.41,117.27 436.41,116.90 437.41,116.84 438.41,116.65 439.41,116.56 440.42,116.40 441.42,116.25 442.42,116.43 443.42,116.27 443.90,116.23 444.42,116.20 445.42,116.23 446.42,116.32 447.42,116.35 448.39,116.25 449.43,116.32 450.43,116.16 451.43,116.23 452.43,116.20 453.43,116.18 454.43,116.19 454.90,116.32 455.43,116.27 456.44,116.00 457.44,115.88 458.44,115.91 459.44,115.74 460.44,115.64 460.90,115.60 461.44,115.42 462.44,114.77 462.90,114.55 463.44,115.03 464.44,116.00 465.45,117.68 466.45,118.89 467.45,119.94 467.82,120.27 468.45,120.42 469.45,120.75 470.45,121.19 471.45,121.43 472.33,121.92 473.46,123.77 474.46,125.49 475.46,125.37 476.46,124.83 477.46,124.26 478.46,123.67 479.46,123.14 480.47,122.68 480.90,122.55 481.47,122.29 482.47,121.99 483.47,121.58 484.47,121.36 485.47,120.68 486.47,120.30 487.48,120.06 487.90,120.18 488.48,119.28 488.90,118.52 489.48,119.12 490.15,119.66 490.48,119.46 491.48,119.17 492.48,119.05 493.48,118.52 494.48,118.04 495.40,117.98 496.49,117.50 497.49,117.16 498.49,116.89 499.49,116.47 500.49,116.13 501.49,116.03 502.49,115.87 503.50,115.65 504.50,115.70 505.50,115.80 505.90,115.65 506.50,115.76 507.50,115.74" fill="none" stroke="#16146e" stroke-width="1.3" stroke-linejoin="round" />
<polyline points="310.25,126.50 311.25,126.16 312.25,126.13 313.00,125.98 313.25,125.85 314.25,125.70 315.26,125.80 316.26,125.71 317.26,125.41 318.26,125.47 319.26,125.43 320.26,125.33 321.00,125.23 321.26,125.32 322.00,125.42 322.26,125.40 323.27,125.37 324.27,125.24 325.27,125.27 326.27,125.30 327.27,125.33 328.27,125.32 329.27,125.49 330.27,125.23 331.28,125.51 332.28,125.27 333.00,125.46 333.28,125.25 334.28,125.26 335.28,125.07 336.28,124.82 337.28,124.93 338.29,124.82 339.00,124.59 339.29,124.67 340.29,124.08 341.00,123.97 341.29,123.92 342.29,125.46 343.29,127.27 344.29,128.96 344.77,129.47 345.29,129.72 346.30,130.32 346.86,130.52 347.30,130.82 348.22,131.02 349.30,133.60 350.00,135.21 350.30,135.00 351.30,134.59 352.30,133.50 353.31,132.78 354.31,132.01 355.00,131.63 355.31,131.58 356.31,131.21 357.31,130.80 358.31,130.26 359.31,129.78 360.31,129.35 360.60,129.41 361.31,127.94 362.32,128.93 363.32,128.50 364.32,128.24 365.32,127.84 366.32,127.50 366.60,127.61 367.32,127.30 368.32,127.32 369.32,126.92 370.33,126.64 371.33,126.41 372.33,126.07 373.33,125.69 374.33,125.40 375.00,125.56 375.33,125.34 376.33,125.14 377.33,125.20 378.34,125.06 379.34,124.91 380.34,124.86 381.34,124.99 382.34,124.81 383.00,124.83 383.34,125.00 384.00,124.80 384.34,124.81 385.35,124.73 386.35,124.89 387.35,124.89 388.35,124.82 389.35,124.80 390.35,124.75 391.35,124.93 392.35,124.82 393.36,124.94 394.36,124.79 395.00,124.90 395.36,124.65 396.36,124.61 397.36,124.72 398.36,124.49 399.36,124.35 400.36,124.19 401.00,124.13 401.37,123.93 402.37,123.41 403.00,123.33 403.37,123.64 404.37,124.77 405.37,126.55 406.37,127.91 407.22,128.88 408.37,129.32 409.38,129.98 410.38,130.29 411.09,130.63 411.38,130.89 412.38,133.34 413.08,134.64 413.38,134.38 414.38,133.93 415.38,133.36 416.38,132.56 417.39,131.89 418.39,131.44 418.68,131.27 419.39,130.98 420.39,130.68 421.39,130.34 422.39,129.76 423.39,129.36 424.39,128.89 424.95,128.78 425.40,128.20 425.85,127.39 426.40,127.82 426.97,128.15 427.40,128.24 428.40,127.78 429.40,127.72 430.40,127.39 431.40,127.06 431.67,126.87 432.40,126.96 433.41,126.52 434.41,126.42 435.41,125.98 436.41,125.46 437.41,125.42 438.41,125.00 439.41,124.90 440.42,124.70 441.08,124.57 441.42,124.65 442.42,124.36 443.42,124.52 444.42,124.30 445.42,124.17 446.00,124.27 446.42,124.18 447.42,124.18 448.43,124.35 449.43,124.19 450.04,124.20 450.43,124.24 451.43,124.24 452.43,124.44 453.43,124.44 454.43,124.42 455.43,124.46 456.44,124.28 457.00,124.39 457.44,124.20 458.44,124.30 459.44,124.13 460.44,123.97 461.44,123.67 462.44,123.52 463.00,123.75 463.44,123.49 464.44,122.99 465.00,122.87 465.45,122.97 466.45,124.27 467.45,125.67 468.45,127.21 469.45,128.13 469.71,128.22 470.45,128.74 471.45,129.08 472.33,129.57 473.46,130.02 474.03,130.00 474.46,130.71 475.46,132.76 476.25,133.97 477.46,133.49 478.46,133.14 479.46,132.28 480.47,131.66 481.47,131.10 482.47,130.57 483.47,130.56 484.47,130.21 485.47,129.84 486.47,129.22 487.48,128.75 488.48,128.45 489.48,128.33 490.48,126.81 491.48,127.54 491.75,127.74 492.48,127.49 493.48,127.48 494.48,127.00 495.49,126.63 496.49,126.35 497.00,125.99 497.49,126.03 498.49,125.59 499.49,125.39 500.49,124.82 501.49,124.57 502.49,124.41 503.50,124.15 504.50,123.96 505.50,123.92 506.50,123.74 507.50,123.78" fill="none" stroke="#24802c" stroke-width="1.3" stroke-linejoin="round" />
<polyline points="310.25,134.34 311.25,134.34 312.25,133.94 313.25,133.95 313.60,133.82 314.25,133.77 315.26,133.68 316.26,133.42 317.26,133.54 318.26,133.31 319.26,133.45 320.26,133.39 321.26,133.34 321.60,133.38 322.26,133.26 323.27,133.33 324.27,133.41 325.27,133.17 326.27,133.14 327.27,133.23 328.27,133.27 329.27,133.15 330.27,133.17 331.28,133.38 332.28,133.23 333.28,133.15 334.28,133.16 335.28,133.22 336.28,132.99 337.28,132.95 338.29,132.84 339.29,132.70 340.29,132.64 341.29,132.40 342.29,131.71 343.29,132.97 344.29,134.46 345.29,135.97 345.83,136.73 346.30,136.85 347.30,137.47 347.74,137.54 348.30,137.94 348.98,138.07 349.30,138.69 350.30,140.95 350.60,141.50 351.30,141.26 352.30,140.59 353.31,139.92 354.31,139.12 355.31,138.81 355.60,138.73 356.31,138.39 357.31,138.15 358.31,137.76 359.31,137.10 360.31,136.95 361.20,136.73 362.00,135.21 362.32,135.49 363.00,136.05 363.32,136.05 364.32,135.75 365.32,135.54 366.32,135.16 367.20,135.00 368.32,134.91 369.32,134.70 370.33,134.62 371.33,134.36 372.33,133.92 373.33,133.70 374.33,133.41 375.33,133.34 375.60,133.24 376.33,133.36 377.33,133.28 378.34,133.25 379.34,132.91 380.34,132.79 381.34,132.97 382.34,132.83 383.34,132.98 383.60,132.81 384.34,132.78 385.35,132.70 386.35,132.97 387.35,132.83 388.35,132.81 389.35,132.80 390.35,132.91 391.35,132.93 392.35,132.82 393.36,132.72 394.36,132.79 395.36,132.95 396.36,132.79 397.36,132.80 398.36,132.66 399.36,132.50 400.36,132.40 401.37,132.19 402.37,132.21 403.37,131.93 404.37,131.27 405.37,132.32 406.37,134.00 407.37,135.52 408.24,136.04 409.38,136.77 410.38,137.23 411.38,137.68 411.77,137.68 412.38,138.55 413.38,140.73 414.38,140.83 415.38,140.32 416.38,139.53 417.39,139.05 418.39,138.54 419.18,138.27 420.39,137.78 421.39,137.55 422.39,137.10 423.39,136.78 424.39,136.36 425.40,136.05 426.35,134.95 427.40,135.63 428.40,135.65 429.40,135.23 430.40,135.00 431.40,134.83 432.18,134.48 433.41,134.54 434.41,134.14 435.41,134.17 436.41,133.59 437.41,133.52 438.41,133.15 439.41,132.87 440.42,132.76 441.42,132.67 442.42,132.56 443.42,132.40 444.42,132.47 445.42,132.36 446.42,132.55 447.40,132.36 448.43,132.37 449.43,132.30 450.43,132.54 451.43,132.33 452.43,132.43 453.43,132.49 454.43,132.35 455.43,132.47 456.44,132.32 457.44,132.26 458.40,132.23 459.44,132.29 460.44,132.31 461.44,131.97 462.44,131.91 463.44,131.91 464.40,131.68 465.45,131.22 466.40,130.97 467.45,131.86 468.45,133.36 469.45,134.73 470.45,135.52 471.45,136.05 472.46,136.52 473.07,136.60 473.46,136.83 474.46,137.34 475.46,138.48 476.46,140.42 477.46,140.41 478.46,139.76 479.46,139.49 480.47,138.66 481.47,138.21 482.47,137.95 482.90,137.62 483.47,137.63 484.47,137.29 485.47,137.07 486.47,136.56 487.48,136.23 488.48,135.93 489.48,135.64 489.90,135.57 490.48,134.85 490.90,134.44 491.48,134.70 492.15,135.37 492.48,135.20 493.48,134.96 494.48,134.70 495.49,134.62 496.49,134.10 497.40,134.10 498.49,133.66 499.49,133.66 500.49,133.20 501.49,132.97 502.49,132.79 503.50,132.33 504.50,132.14 505.50,132.21 506.50,132.08 507.50,132.07" fill="none" stroke="#d030d0" stroke-width="1.3" stroke-linejoin="round" />
<polyline points="310.25,142.23 311.25,142.06 312.25,141.72 313.25,141.58 314.25,141.35 314.80,141.37 315.26,141.24 316.26,141.13 317.26,141.15 318.26,140.88 319.26,141.04 320.26,140.88 321.26,140.77 322.26,140.71 322.80,140.83 323.27,140.82 324.27,140.88 324.70,140.77 325.27,140.78 326.27,140.93 327.27,140.72 328.27,140.95 329.27,140.92 330.27,140.95 331.28,140.93 332.28,140.71 333.28,140.88 334.28,140.81 335.28,140.68 335.70,140.93 336.28,140.78 337.28,140.73 338.29,140.52 339.29,140.24 340.29,140.37 341.29,140.05 341.70,140.05 342.29,139.97 343.29,139.36 343.70,139.32 344.29,139.97 345.29,141.34 346.30,143.17 347.09,143.83 348.30,144.59 348.97,144.95 349.30,145.06 350.20,145.22 351.30,147.61 351.80,148.70 352.30,148.35 353.31,147.85 354.31,147.17 355.31,146.61 356.31,146.11 356.80,145.92 357.31,145.73 358.31,145.46 359.31,145.02 360.31,144.47 361.31,144.32 362.32,144.06 363.20,142.78 364.20,143.64 365.32,143.23 366.32,143.04 367.32,142.54 368.32,142.49 369.32,142.36 370.33,142.27 371.33,142.03 372.33,141.83 373.33,141.39 374.33,141.32 375.33,141.00 376.33,140.77 376.80,140.73 377.33,140.81 378.34,140.73 379.34,140.63 380.34,140.48 381.34,140.25 382.34,140.20 383.34,140.29 384.34,140.16 384.80,140.20 385.35,140.12 386.35,140.12 386.70,140.30 387.35,140.14 388.35,140.33 389.35,140.16 390.35,140.33 391.35,140.15 392.35,140.14 393.36,140.18 394.36,140.05 395.36,140.18 396.36,140.16 397.36,140.04 397.70,140.31 398.36,140.11 399.36,139.89 400.36,140.07 401.37,139.70 402.37,139.59 403.37,139.42 403.70,139.42 404.37,139.39 405.37,138.87 405.70,138.76 406.37,139.25 407.37,140.65 408.37,142.38 409.38,143.26 410.38,143.91 411.38,144.38 412.38,144.47 412.98,144.90 413.38,145.18 414.38,147.51 414.77,148.07 415.38,147.84 416.38,147.34 417.39,146.84 418.39,146.02 419.39,145.63 420.37,145.20 421.39,145.02 422.39,144.63 423.39,144.40 424.39,143.96 425.40,143.68 426.40,143.38 427.40,142.26 428.40,142.87 428.66,142.98 429.40,142.78 430.40,142.46 431.40,142.36 432.40,141.92 433.36,141.67 434.41,141.63 435.41,141.59 436.41,141.44 437.41,141.08 438.41,140.80 439.41,140.63 440.42,140.36 441.42,140.08 442.42,139.95 442.77,140.01 443.42,139.82 444.42,139.68 445.42,139.78 446.42,139.80 447.42,139.59 448.43,139.72 448.70,139.78 449.43,139.53 450.43,139.53 451.43,139.64 451.73,139.59 452.43,139.78 453.43,139.80 454.43,139.62 455.43,139.73 456.44,139.67 457.44,139.52 458.44,139.77 459.44,139.51 459.70,139.48 460.44,139.55 461.44,139.30 462.44,139.32 463.44,139.17 464.44,139.22 465.45,138.96 465.70,139.09 466.45,138.79 467.45,138.27 467.70,138.09 468.45,138.70 469.45,139.97 470.45,141.32 471.45,142.51 471.94,142.80 472.46,142.90 473.46,143.47 474.29,143.89 475.46,144.02 475.82,144.15 476.46,144.92 477.46,146.84 477.82,147.24 478.46,147.18 479.46,146.92 480.47,146.36 481.47,145.90 482.47,145.35 483.47,144.88 484.07,144.71 484.47,144.46 485.47,144.35 486.47,144.00 487.48,143.77 488.48,143.23 489.48,143.06 490.48,142.76 491.07,142.70 491.48,142.21 492.07,141.36 492.48,141.79 493.32,142.37 494.48,142.12 495.49,141.73 496.49,141.63 497.49,141.46 498.49,141.26 499.49,140.99 500.49,140.51 501.49,140.50 502.49,140.15 503.50,139.77 504.50,139.75 505.50,139.54 506.50,139.42 507.50,139.12" fill="none" stroke="#2430d0" stroke-width="1.3" stroke-linejoin="round" />
<polyline points="310.25,150.02 311.25,149.71 312.25,149.40 313.25,149.26 314.25,148.94 315.26,148.62 316.10,148.54 317.26,148.54 318.26,148.31 319.26,148.31 320.26,148.12 321.26,148.19 322.26,147.85 323.27,147.96 324.10,147.99 325.27,148.03 325.70,148.11 326.27,148.00 327.27,147.95 328.27,148.00 329.27,147.97 330.27,148.03 331.28,148.11 332.28,147.81 333.28,147.91 334.28,148.09 335.28,147.83 336.28,148.06 336.70,147.82 337.28,147.98 338.29,147.92 339.29,147.61 340.29,147.52 341.29,147.34 342.29,147.40 342.70,147.32 343.29,147.13 344.29,146.53 344.70,146.48 345.29,147.24 346.30,148.93 347.30,150.88 348.22,151.79 349.30,152.52 350.17,152.97 351.30,153.49 352.30,155.69 353.10,157.31 354.31,156.82 355.31,156.14 356.31,155.38 357.31,154.41 358.10,154.14 359.31,153.83 360.31,153.50 361.31,152.72 362.32,152.45 363.32,151.94 363.70,151.90 364.32,150.82 365.32,151.13 366.32,151.15 367.32,150.75 368.32,150.37 369.32,150.13 369.70,150.18 370.33,150.07 371.33,149.75 372.33,149.74 373.33,149.39 374.33,148.99 375.33,148.92 376.33,148.64 377.33,148.23 378.10,148.33 379.34,148.15 380.34,147.85 381.34,147.68 382.34,147.87 383.34,147.80 384.34,147.53 385.35,147.72 386.10,147.72 387.35,147.67 387.70,147.73 388.35,147.78 389.35,147.56 390.35,147.73 391.35,147.76 392.35,147.56 393.36,147.69 394.36,147.69 395.36,147.74 396.36,147.65 397.36,147.56 398.36,147.55 398.70,147.65 399.36,147.47 400.36,147.59 401.37,147.47 402.37,147.13 403.37,147.15 404.37,147.05 404.70,146.85 405.37,146.81 406.37,146.30 406.70,146.06 407.37,146.64 408.37,148.23 409.38,150.12 410.38,151.31 410.64,151.63 411.38,151.76 412.38,152.37 412.83,152.62 413.38,152.99 414.25,153.13 415.38,155.55 416.11,157.15 416.38,156.85 417.39,156.56 418.39,155.71 419.39,155.04 420.39,154.51 421.39,154.09 421.71,153.84 422.39,153.69 423.39,153.21 424.39,152.86 425.40,152.36 426.40,152.09 427.40,151.73 427.98,151.62 428.40,150.88 428.88,150.15 429.40,150.40 430.00,151.00 430.40,150.91 431.40,150.65 432.40,150.46 433.41,149.96 434.41,149.76 434.70,149.70 435.41,149.80 436.41,149.56 437.41,149.25 438.41,148.90 439.41,148.74 440.42,148.43 441.42,148.00 442.42,147.82 443.42,147.75 444.11,147.47 444.42,147.45 445.42,147.32 446.42,147.38 447.42,147.41 448.43,147.19 449.43,147.26 449.70,147.44 450.43,147.28 451.43,147.24 452.43,147.39 453.07,147.41 453.43,147.24 454.43,147.17 455.43,147.33 456.44,147.37 457.44,147.43 458.44,147.35 459.44,147.23 460.44,147.30 460.70,147.23 461.44,147.22 462.44,147.12 463.44,147.13 464.44,146.99 465.45,146.87 466.45,146.64 466.70,146.78 467.45,146.22 468.45,145.98 469.45,146.48 470.45,147.91 471.45,149.32 472.46,150.81 473.10,151.04 473.46,151.41 474.46,151.94 475.46,152.27 476.46,152.78 477.12,152.80 477.46,153.41 478.46,155.50 479.20,156.69 479.46,156.55 480.47,156.34 481.47,155.75 482.47,154.90 483.47,154.55 484.47,153.78 485.45,153.48 486.47,153.26 487.48,152.98 488.48,152.68 489.48,152.27 490.48,151.77 491.48,151.35 492.45,151.05 493.45,149.60 494.48,150.58 495.49,150.58 496.49,150.29 497.49,150.15 498.49,149.65 499.49,149.32 499.95,149.22 500.49,149.01 501.49,148.97 502.49,148.53 503.50,148.19 504.50,147.84 505.50,147.51 506.50,147.31 507.50,147.20" fill="none" stroke="#cc2222" stroke-width="1.3" stroke-linejoin="round" />
<polyline points="310.25,158.78 311.25,158.72 312.25,158.33 313.25,157.95 314.25,157.62 315.26,157.39 316.26,157.25 316.80,157.30 317.26,157.29 318.26,156.97 319.26,157.03 320.26,156.81 321.26,156.76 322.26,156.70 323.27,156.51 324.27,156.50 324.80,156.68 325.27,156.69 326.27,156.58 326.80,156.75 327.27,156.72 328.27,156.56 329.27,156.48 330.27,156.64 331.28,156.67 332.28,156.54 333.28,156.48 334.28,156.63 335.28,156.49 336.28,156.71 337.28,156.68 337.80,156.56 338.29,156.58 339.29,156.41 340.29,156.26 341.29,156.11 342.29,156.17 343.29,155.95 343.80,156.00 344.29,155.70 345.29,155.30 345.80,155.05 346.30,155.61 347.30,157.34 348.30,159.40 349.15,160.39 350.30,161.37 351.01,161.67 351.30,161.73 352.22,162.22 353.31,164.83 353.80,165.92 354.31,165.68 355.31,165.27 356.31,164.23 357.31,163.59 358.31,163.12 358.80,162.90 359.31,162.75 360.31,162.24 361.31,161.72 362.32,161.35 363.32,160.76 364.32,160.59 365.20,159.02 366.20,160.10 367.32,159.76 368.32,159.48 369.32,159.17 370.33,158.73 371.33,158.79 372.33,158.28 373.33,158.33 374.33,157.80 375.33,157.69 376.33,157.36 377.33,157.23 378.34,156.88 378.80,156.77 379.34,156.90 380.34,156.71 381.34,156.67 382.34,156.48 383.34,156.25 384.34,156.43 385.35,156.22 386.35,156.28 386.80,156.13 387.35,156.21 388.35,156.33 388.80,156.36 389.35,156.32 390.35,156.26 391.35,156.35 392.35,156.33 393.36,156.19 394.36,156.30 395.36,156.32 396.36,156.36 397.36,156.20 398.36,156.23 399.36,156.24 399.80,156.16 400.36,156.20 401.37,156.22 402.37,156.03 403.37,155.75 404.37,155.79 405.37,155.49 405.80,155.66 406.37,155.25 407.37,154.69 407.80,154.59 408.37,155.25 409.38,156.78 410.38,158.80 411.38,160.14 412.38,160.49 413.38,161.26 413.63,161.33 414.38,161.61 414.99,161.76 415.38,162.62 416.38,165.17 416.76,165.47 417.39,165.34 418.39,164.80 419.39,164.07 420.39,163.43 421.39,162.97 422.36,162.31 423.39,162.30 424.39,161.74 425.40,161.19 426.40,161.01 427.40,160.41 428.40,160.10 429.40,158.73 430.40,159.46 431.40,159.39 432.40,159.12 433.41,158.81 434.41,158.61 435.35,158.38 436.41,158.21 437.41,158.10 438.41,157.91 439.41,157.59 440.42,157.14 441.42,157.02 442.42,156.72 443.42,156.44 444.42,156.27 444.76,156.18 445.42,156.06 446.42,156.22 447.42,156.06 448.43,155.85 449.43,156.09 450.43,156.06 450.80,155.79 451.43,156.00 452.43,155.85 453.43,155.95 453.72,156.04 454.43,155.89 455.43,155.94 456.44,156.00 457.44,155.85 458.44,155.99 459.44,155.93 460.44,156.11 461.44,155.85 461.80,156.02 462.44,155.75 463.44,155.72 464.44,155.53 465.45,155.39 466.45,155.38 467.45,155.16 467.80,155.34 468.45,154.85 469.45,154.48 469.80,154.45 470.45,154.80 471.45,156.24 472.46,158.08 473.46,159.34 473.99,159.94 474.46,159.92 475.46,160.52 476.31,161.07 477.46,161.33 477.82,161.64 478.46,162.67 479.46,164.73 479.80,165.29 480.47,165.20 481.47,164.47 482.47,164.10 483.47,163.43 484.47,162.82 485.47,162.32 486.05,161.98 486.47,162.17 487.48,161.63 488.48,161.48 489.48,161.05 490.48,160.50 491.48,160.25 492.48,159.87 493.05,159.87 493.48,159.05 494.05,158.50 494.48,158.61 495.30,159.40 496.49,159.07 497.49,158.90 498.49,158.43 499.49,158.22 500.49,157.80 501.49,157.71 502.49,157.29 503.50,157.22 504.50,156.84 505.50,156.45 506.50,156.36 507.50,156.14" fill="none" stroke="#161616" stroke-width="1.3" stroke-linejoin="round" />
<rect x="309.65" y="20.20" width="198.45" height="146.80" fill="none" stroke="#1a1a1a" stroke-width="1.25"/>
<line x1="309.65" y1="167.00" x2="309.65" y2="169.60" stroke="#1a1a1a" stroke-width="1.0"/>
<line x1="322.05" y1="167.00" x2="322.05" y2="168.60" stroke="#1a1a1a" stroke-width="1.0"/>
<line x1="334.46" y1="167.00" x2="334.46" y2="169.60" stroke="#1a1a1a" stroke-width="1.0"/>
<line x1="346.86" y1="167.00" x2="346.86" y2="168.60" stroke="#1a1a1a" stroke-width="1.0"/>
<line x1="359.26" y1="167.00" x2="359.26" y2="169.60" stroke="#1a1a1a" stroke-width="1.0"/>
<line x1="371.67" y1="167.00" x2="371.67" y2="168.60" stroke="#1a1a1a" stroke-width="1.0"/>
<line x1="384.07" y1="167.00" x2="384.07" y2="169.60" stroke="#1a1a1a" stroke-width="1.0"/>
<line x1="396.47" y1="167.00" x2="396.47" y2="168.60" stroke="#1a1a1a" stroke-width="1.0"/>
<line x1="408.88" y1="167.00" x2="408.88" y2="169.60" stroke="#1a1a1a" stroke-width="1.0"/>
<line x1="421.28" y1="167.00" x2="421.28" y2="168.60" stroke="#1a1a1a" stroke-width="1.0"/>
<line x1="433.68" y1="167.00" x2="433.68" y2="169.60" stroke="#1a1a1a" stroke-width="1.0"/>
<line x1="446.08" y1="167.00" x2="446.08" y2="168.60" stroke="#1a1a1a" stroke-width="1.0"/>
<line x1="458.49" y1="167.00" x2="458.49" y2="169.60" stroke="#1a1a1a" stroke-width="1.0"/>
<line x1="470.89" y1="167.00" x2="470.89" y2="168.60" stroke="#1a1a1a" stroke-width="1.0"/>
<line x1="483.29" y1="167.00" x2="483.29" y2="169.60" stroke="#1a1a1a" stroke-width="1.0"/>
<line x1="495.70" y1="167.00" x2="495.70" y2="168.60" stroke="#1a1a1a" stroke-width="1.0"/>
<line x1="508.10" y1="167.00" x2="508.10" y2="169.60" stroke="#1a1a1a" stroke-width="1.0"/>
<text x="309.65" y="177.70" font-size="8.5" text-anchor="middle" style="font-family:'Liberation Sans',sans-serif;font-weight:bold" fill="#111" textLength="18.20" lengthAdjust="spacingAndGlyphs" stroke="#111" stroke-width="0.22" >1530</text>
<text x="334.46" y="177.70" font-size="8.5" text-anchor="middle" style="font-family:'Liberation Sans',sans-serif;font-weight:bold" fill="#111" textLength="18.20" lengthAdjust="spacingAndGlyphs" stroke="#111" stroke-width="0.22" >1535</text>
<text x="359.26" y="177.70" font-size="8.5" text-anchor="middle" style="font-family:'Liberation Sans',sans-serif;font-weight:bold" fill="#111" textLength="18.20" lengthAdjust="spacingAndGlyphs" stroke="#111" stroke-width="0.22" >1540</text>
<text x="384.07" y="177.70" font-size="8.5" text-anchor="middle" style="font-family:'Liberation Sans',sans-serif;font-weight:bold" fill="#111" textLength="18.20" lengthAdjust="spacingAndGlyphs" stroke="#111" stroke-width="0.22" >1545</text>
<text x="408.88" y="177.70" font-size="8.5" text-anchor="middle" style="font-family:'Liberation Sans',sans-serif;font-weight:bold" fill="#111" textLength="18.20" lengthAdjust="spacingAndGlyphs" stroke="#111" stroke-width="0.22" >1550</text>
<text x="433.68" y="177.70" font-size="8.5" text-anchor="middle" style="font-family:'Liberation Sans',sans-serif;font-weight:bold" fill="#111" textLength="18.20" lengthAdjust="spacingAndGlyphs" stroke="#111" stroke-width="0.22" >1555</text>
<text x="458.49" y="177.70" font-size="8.5" text-anchor="middle" style="font-family:'Liberation Sans',sans-serif;font-weight:bold" fill="#111" textLength="18.20" lengthAdjust="spacingAndGlyphs" stroke="#111" stroke-width="0.22" >1560</text>
<text x="483.29" y="177.70" font-size="8.5" text-anchor="middle" style="font-family:'Liberation Sans',sans-serif;font-weight:bold" fill="#111" textLength="18.20" lengthAdjust="spacingAndGlyphs" stroke="#111" stroke-width="0.22" >1565</text>
<text x="508.10" y="177.70" font-size="8.5" text-anchor="middle" style="font-family:'Liberation Sans',sans-serif;font-weight:bold" fill="#111" textLength="18.20" lengthAdjust="spacingAndGlyphs" stroke="#111" stroke-width="0.22" >1570</text>
<text x="408.65" y="190.40" font-size="9.9" text-anchor="middle" style="font-family:'Liberation Sans',sans-serif;font-weight:bold" fill="#111" textLength="74.70" lengthAdjust="spacingAndGlyphs" stroke="#111" stroke-width="0.22" >Wavelength (nm)</text>
<text x="407.00" y="14.20" font-size="12.2" text-anchor="middle" style="font-family:'Liberation Serif',serif;font-weight:bold" fill="#111" textLength="89.00" lengthAdjust="spacingAndGlyphs" >From left to right</text>
<text x="283.20" y="14.80" font-size="14.2" text-anchor="start" style="font-family:'Liberation Serif',serif;font-weight:bold" fill="#111" textLength="18.20" lengthAdjust="spacingAndGlyphs" >(b)</text>
<line x1="510.10" y1="29.30" x2="527.40" y2="29.30" stroke="#98388e" stroke-width="1.55"/>
<text x="528.70" y="31.60" font-size="5.5" text-anchor="start" style="font-family:'Liberation Sans',sans-serif;font-weight:bold" fill="#151515" textLength="17.30" lengthAdjust="spacingAndGlyphs" stroke="#151515" stroke-width="0.22" >-399 μm</text>
<line x1="510.10" y1="38.80" x2="527.40" y2="38.80" stroke="#2cb84c" stroke-width="1.55"/>
<text x="528.70" y="41.10" font-size="5.5" text-anchor="start" style="font-family:'Liberation Sans',sans-serif;font-weight:bold" fill="#151515" textLength="17.30" lengthAdjust="spacingAndGlyphs" stroke="#151515" stroke-width="0.22" >-342 μm</text>
<line x1="510.10" y1="48.30" x2="527.40" y2="48.30" stroke="#9a6e30" stroke-width="1.55"/>
<text x="528.70" y="50.60" font-size="5.5" text-anchor="start" style="font-family:'Liberation Sans',sans-serif;font-weight:bold" fill="#151515" textLength="17.30" lengthAdjust="spacingAndGlyphs" stroke="#151515" stroke-width="0.22" >-285 μm</text>
<line x1="510.10" y1="57.80" x2="527.40" y2="57.80" stroke="#2a98a2" stroke-width="1.55"/>
<text x="528.70" y="60.10" font-size="5.5" text-anchor="start" style="font-family:'Liberation Sans',sans-serif;font-weight:bold" fill="#151515" textLength="17.30" lengthAdjust="spacingAndGlyphs" stroke="#151515" stroke-width="0.22" >-228 μm</text>
<line x1="510.10" y1="67.30" x2="527.40" y2="67.30" stroke="#4274b2" stroke-width="1.55"/>
<text x="528.70" y="69.60" font-size="5.5" text-anchor="start" style="font-family:'Liberation Sans',sans-serif;font-weight:bold" fill="#151515" textLength="17.30" lengthAdjust="spacingAndGlyphs" stroke="#151515" stroke-width="0.22" >-171 μm</text>
<line x1="510.10" y1="76.80" x2="527.40" y2="76.80" stroke="#969626" stroke-width="1.55"/>
<text x="528.70" y="79.10" font-size="5.5" text-anchor="start" style="font-family:'Liberation Sans',sans-serif;font-weight:bold" fill="#151515" textLength="17.30" lengthAdjust="spacingAndGlyphs" stroke="#151515" stroke-width="0.22" >-114 μm</text>
<line x1="510.10" y1="86.30" x2="527.40" y2="86.30" stroke="#842222" stroke-width="1.55"/>
<text x="528.70" y="88.60" font-size="5.5" text-anchor="start" style="font-family:'Liberation Sans',sans-serif;font-weight:bold" fill="#151515" textLength="14.90" lengthAdjust="spacingAndGlyphs" stroke="#151515" stroke-width="0.22" >-57 μm</text>
<line x1="510.10" y1="95.80" x2="527.40" y2="95.80" stroke="#661468" stroke-width="1.55"/>
<text x="528.70" y="98.10" font-size="5.5" text-anchor="start" style="font-family:'Liberation Sans',sans-serif;font-weight:bold" fill="#151515" textLength="10.10" lengthAdjust="spacingAndGlyphs" stroke="#151515" stroke-width="0.22" >0 μm</text>
<line x1="510.10" y1="105.30" x2="527.40" y2="105.30" stroke="#8838d0" stroke-width="1.55"/>
<text x="528.70" y="107.60" font-size="5.5" text-anchor="start" style="font-family:'Liberation Sans',sans-serif;font-weight:bold" fill="#151515" textLength="12.50" lengthAdjust="spacingAndGlyphs" stroke="#151515" stroke-width="0.22" >57 μm</text>
<line x1="510.10" y1="114.80" x2="527.40" y2="114.80" stroke="#16146e" stroke-width="1.55"/>
<text x="528.70" y="117.10" font-size="5.5" text-anchor="start" style="font-family:'Liberation Sans',sans-serif;font-weight:bold" fill="#151515" textLength="14.90" lengthAdjust="spacingAndGlyphs" stroke="#151515" stroke-width="0.22" >114 μm</text>
<line x1="510.10" y1="124.30" x2="527.40" y2="124.30" stroke="#24802c" stroke-width="1.55"/>
<text x="528.70" y="126.60" font-size="5.5" text-anchor="start" style="font-family:'Liberation Sans',sans-serif;font-weight:bold" fill="#151515" textLength="14.90" lengthAdjust="spacingAndGlyphs" stroke="#151515" stroke-width="0.22" >171 μm</text>
<line x1="510.10" y1="133.80" x2="527.40" y2="133.80" stroke="#d030d0" stroke-width="1.55"/>
<text x="528.70" y="136.10" font-size="5.5" text-anchor="start" style="font-family:'Liberation Sans',sans-serif;font-weight:bold" fill="#151515" textLength="14.90" lengthAdjust="spacingAndGlyphs" stroke="#151515" stroke-width="0.22" >228 μm</text>
<line x1="510.10" y1="143.30" x2="527.40" y2="143.30" stroke="#2430d0" stroke-width="1.55"/>
<text x="528.70" y="145.60" font-size="5.5" text-anchor="start" style="font-family:'Liberation Sans',sans-serif;font-weight:bold" fill="#151515" textLength="14.90" lengthAdjust="spacingAndGlyphs" stroke="#151515" stroke-width="0.22" >285 μm</text>
<line x1="510.10" y1="152.80" x2="527.40" y2="152.80" stroke="#cc2222" stroke-width="1.55"/>
<text x="528.70" y="155.10" font-size="5.5" text-anchor="start" style="font-family:'Liberation Sans',sans-serif;font-weight:bold" fill="#151515" textLength="14.90" lengthAdjust="spacingAndGlyphs" stroke="#151515" stroke-width="0.22" >342 μm</text>
<line x1="510.10" y1="162.30" x2="527.40" y2="162.30" stroke="#161616" stroke-width="1.55"/>
<text x="528.70" y="164.60" font-size="5.5" text-anchor="start" style="font-family:'Liberation Sans',sans-serif;font-weight:bold" fill="#151515" textLength="14.90" lengthAdjust="spacingAndGlyphs" stroke="#151515" stroke-width="0.22" >399 μm</text>
<polyline points="62.60,306.00 74.20,297.90 85.80,296.80 97.40,294.10 109.00,299.30 120.60,316.70 132.20,315.50 143.80,306.60 155.40,269.00 167.00,255.50 178.60,246.50 190.20,239.40 201.80,232.40 213.40,227.80 225.00,223.40" fill="none" stroke="#111" stroke-width="1.3" stroke-linejoin="round" />
<polyline points="62.60,297.20 74.20,292.60 85.80,293.30 97.40,290.20 109.00,296.60 120.60,315.00 132.20,313.80 143.80,305.60 155.40,266.50 167.00,252.00 178.60,242.20 190.20,236.00 201.80,230.60 213.40,226.40 225.00,222.20" fill="none" stroke="#e01010" stroke-width="1.3" stroke-linejoin="round" />
<line x1="62.60" y1="302.20" x2="62.60" y2="309.80" stroke="#111" stroke-width="1.1"/>
<line x1="60.50" y1="302.20" x2="64.70" y2="302.20" stroke="#111" stroke-width="1.32"/>
<line x1="60.50" y1="309.80" x2="64.70" y2="309.80" stroke="#111" stroke-width="1.32"/>
<line x1="74.20" y1="293.30" x2="74.20" y2="302.50" stroke="#111" stroke-width="1.1"/>
<line x1="72.10" y1="293.30" x2="76.30" y2="293.30" stroke="#111" stroke-width="1.32"/>
<line x1="72.10" y1="302.50" x2="76.30" y2="302.50" stroke="#111" stroke-width="1.32"/>
<line x1="85.80" y1="288.60" x2="85.80" y2="305.00" stroke="#111" stroke-width="1.1"/>
<line x1="83.70" y1="288.60" x2="87.90" y2="288.60" stroke="#111" stroke-width="1.32"/>
<line x1="83.70" y1="305.00" x2="87.90" y2="305.00" stroke="#111" stroke-width="1.32"/>
<line x1="97.40" y1="290.10" x2="97.40" y2="298.10" stroke="#111" stroke-width="1.1"/>
<line x1="95.30" y1="290.10" x2="99.50" y2="290.10" stroke="#111" stroke-width="1.32"/>
<line x1="95.30" y1="298.10" x2="99.50" y2="298.10" stroke="#111" stroke-width="1.32"/>
<line x1="109.00" y1="293.50" x2="109.00" y2="305.10" stroke="#111" stroke-width="1.1"/>
<line x1="106.90" y1="293.50" x2="111.10" y2="293.50" stroke="#111" stroke-width="1.32"/>
<line x1="106.90" y1="305.10" x2="111.10" y2="305.10" stroke="#111" stroke-width="1.32"/>
<line x1="120.60" y1="311.40" x2="120.60" y2="322.00" stroke="#111" stroke-width="1.1"/>
<line x1="118.50" y1="311.40" x2="122.70" y2="311.40" stroke="#111" stroke-width="1.32"/>
<line x1="118.50" y1="322.00" x2="122.70" y2="322.00" stroke="#111" stroke-width="1.32"/>
<line x1="132.20" y1="311.20" x2="132.20" y2="319.80" stroke="#111" stroke-width="1.1"/>
<line x1="130.10" y1="311.20" x2="134.30" y2="311.20" stroke="#111" stroke-width="1.32"/>
<line x1="130.10" y1="319.80" x2="134.30" y2="319.80" stroke="#111" stroke-width="1.32"/>
<line x1="143.80" y1="303.00" x2="143.80" y2="310.20" stroke="#111" stroke-width="1.1"/>
<line x1="141.70" y1="303.00" x2="145.90" y2="303.00" stroke="#111" stroke-width="1.32"/>
<line x1="141.70" y1="310.20" x2="145.90" y2="310.20" stroke="#111" stroke-width="1.32"/>
<line x1="155.40" y1="263.20" x2="155.40" y2="274.80" stroke="#111" stroke-width="1.1"/>
<line x1="153.30" y1="263.20" x2="157.50" y2="263.20" stroke="#111" stroke-width="1.32"/>
<line x1="153.30" y1="274.80" x2="157.50" y2="274.80" stroke="#111" stroke-width="1.32"/>
<line x1="167.00" y1="252.50" x2="167.00" y2="258.50" stroke="#111" stroke-width="1.1"/>
<line x1="164.90" y1="252.50" x2="169.10" y2="252.50" stroke="#111" stroke-width="1.32"/>
<line x1="164.90" y1="258.50" x2="169.10" y2="258.50" stroke="#111" stroke-width="1.32"/>
<line x1="178.60" y1="243.70" x2="178.60" y2="249.30" stroke="#111" stroke-width="1.1"/>
<line x1="176.50" y1="243.70" x2="180.70" y2="243.70" stroke="#111" stroke-width="1.32"/>
<line x1="176.50" y1="249.30" x2="180.70" y2="249.30" stroke="#111" stroke-width="1.32"/>
<line x1="190.20" y1="236.40" x2="190.20" y2="242.40" stroke="#111" stroke-width="1.1"/>
<line x1="188.10" y1="236.40" x2="192.30" y2="236.40" stroke="#111" stroke-width="1.32"/>
<line x1="188.10" y1="242.40" x2="192.30" y2="242.40" stroke="#111" stroke-width="1.32"/>
<line x1="201.80" y1="228.40" x2="201.80" y2="236.40" stroke="#111" stroke-width="1.1"/>
<line x1="199.70" y1="228.40" x2="203.90" y2="228.40" stroke="#111" stroke-width="1.32"/>
<line x1="199.70" y1="236.40" x2="203.90" y2="236.40" stroke="#111" stroke-width="1.32"/>
<line x1="213.40" y1="220.70" x2="213.40" y2="234.90" stroke="#111" stroke-width="1.1"/>
<line x1="211.30" y1="220.70" x2="215.50" y2="220.70" stroke="#111" stroke-width="1.32"/>
<line x1="211.30" y1="234.90" x2="215.50" y2="234.90" stroke="#111" stroke-width="1.32"/>
<line x1="225.00" y1="219.40" x2="225.00" y2="227.40" stroke="#111" stroke-width="1.1"/>
<line x1="222.90" y1="219.40" x2="227.10" y2="219.40" stroke="#111" stroke-width="1.32"/>
<line x1="222.90" y1="227.40" x2="227.10" y2="227.40" stroke="#111" stroke-width="1.32"/>
<line x1="62.60" y1="293.00" x2="62.60" y2="301.40" stroke="#e01010" stroke-width="1.1"/>
<line x1="60.50" y1="293.00" x2="64.70" y2="293.00" stroke="#e01010" stroke-width="1.32"/>
<line x1="60.50" y1="301.40" x2="64.70" y2="301.40" stroke="#e01010" stroke-width="1.32"/>
<line x1="74.20" y1="288.40" x2="74.20" y2="296.80" stroke="#e01010" stroke-width="1.1"/>
<line x1="72.10" y1="288.40" x2="76.30" y2="288.40" stroke="#e01010" stroke-width="1.32"/>
<line x1="72.10" y1="296.80" x2="76.30" y2="296.80" stroke="#e01010" stroke-width="1.32"/>
<line x1="85.80" y1="286.90" x2="85.80" y2="299.70" stroke="#e01010" stroke-width="1.1"/>
<line x1="83.70" y1="286.90" x2="87.90" y2="286.90" stroke="#e01010" stroke-width="1.32"/>
<line x1="83.70" y1="299.70" x2="87.90" y2="299.70" stroke="#e01010" stroke-width="1.32"/>
<line x1="97.40" y1="284.70" x2="97.40" y2="295.70" stroke="#e01010" stroke-width="1.1"/>
<line x1="95.30" y1="284.70" x2="99.50" y2="284.70" stroke="#e01010" stroke-width="1.32"/>
<line x1="95.30" y1="295.70" x2="99.50" y2="295.70" stroke="#e01010" stroke-width="1.32"/>
<line x1="109.00" y1="293.60" x2="109.00" y2="299.60" stroke="#e01010" stroke-width="1.1"/>
<line x1="106.90" y1="293.60" x2="111.10" y2="293.60" stroke="#e01010" stroke-width="1.32"/>
<line x1="106.90" y1="299.60" x2="111.10" y2="299.60" stroke="#e01010" stroke-width="1.32"/>
<line x1="120.60" y1="312.00" x2="120.60" y2="318.00" stroke="#e01010" stroke-width="1.1"/>
<line x1="118.50" y1="312.00" x2="122.70" y2="312.00" stroke="#e01010" stroke-width="1.32"/>
<line x1="118.50" y1="318.00" x2="122.70" y2="318.00" stroke="#e01010" stroke-width="1.32"/>
<line x1="132.20" y1="309.40" x2="132.20" y2="318.20" stroke="#e01010" stroke-width="1.1"/>
<line x1="130.10" y1="309.40" x2="134.30" y2="309.40" stroke="#e01010" stroke-width="1.32"/>
<line x1="130.10" y1="318.20" x2="134.30" y2="318.20" stroke="#e01010" stroke-width="1.32"/>
<line x1="143.80" y1="301.00" x2="143.80" y2="310.20" stroke="#e01010" stroke-width="1.1"/>
<line x1="141.70" y1="301.00" x2="145.90" y2="301.00" stroke="#e01010" stroke-width="1.32"/>
<line x1="141.70" y1="310.20" x2="145.90" y2="310.20" stroke="#e01010" stroke-width="1.32"/>
<line x1="155.40" y1="262.00" x2="155.40" y2="271.00" stroke="#e01010" stroke-width="1.1"/>
<line x1="153.30" y1="262.00" x2="157.50" y2="262.00" stroke="#e01010" stroke-width="1.32"/>
<line x1="153.30" y1="271.00" x2="157.50" y2="271.00" stroke="#e01010" stroke-width="1.32"/>
<line x1="167.00" y1="249.50" x2="167.00" y2="254.50" stroke="#e01010" stroke-width="1.1"/>
<line x1="164.90" y1="249.50" x2="169.10" y2="249.50" stroke="#e01010" stroke-width="1.32"/>
<line x1="164.90" y1="254.50" x2="169.10" y2="254.50" stroke="#e01010" stroke-width="1.32"/>
<line x1="178.60" y1="239.70" x2="178.60" y2="244.70" stroke="#e01010" stroke-width="1.1"/>
<line x1="176.50" y1="239.70" x2="180.70" y2="239.70" stroke="#e01010" stroke-width="1.32"/>
<line x1="176.50" y1="244.70" x2="180.70" y2="244.70" stroke="#e01010" stroke-width="1.32"/>
<line x1="190.20" y1="233.20" x2="190.20" y2="238.80" stroke="#e01010" stroke-width="1.1"/>
<line x1="188.10" y1="233.20" x2="192.30" y2="233.20" stroke="#e01010" stroke-width="1.32"/>
<line x1="188.10" y1="238.80" x2="192.30" y2="238.80" stroke="#e01010" stroke-width="1.32"/>
<line x1="201.80" y1="228.40" x2="201.80" y2="232.80" stroke="#e01010" stroke-width="1.1"/>
<line x1="199.70" y1="228.40" x2="203.90" y2="228.40" stroke="#e01010" stroke-width="1.32"/>
<line x1="199.70" y1="232.80" x2="203.90" y2="232.80" stroke="#e01010" stroke-width="1.32"/>
<line x1="213.40" y1="219.80" x2="213.40" y2="233.00" stroke="#e01010" stroke-width="1.1"/>
<line x1="211.30" y1="219.80" x2="215.50" y2="219.80" stroke="#e01010" stroke-width="1.32"/>
<line x1="211.30" y1="233.00" x2="215.50" y2="233.00" stroke="#e01010" stroke-width="1.32"/>
<line x1="225.00" y1="218.50" x2="225.00" y2="225.90" stroke="#e01010" stroke-width="1.1"/>
<line x1="222.90" y1="218.50" x2="227.10" y2="218.50" stroke="#e01010" stroke-width="1.32"/>
<line x1="222.90" y1="225.90" x2="227.10" y2="225.90" stroke="#e01010" stroke-width="1.32"/>
<polygon points="58.90,300.40 66.30,300.40 62.60,294.00" fill="#ec1010"/>
<polygon points="70.50,295.80 77.90,295.80 74.20,289.40" fill="#ec1010"/>
<polygon points="82.10,296.50 89.50,296.50 85.80,290.10" fill="#ec1010"/>
<polygon points="93.70,293.40 101.10,293.40 97.40,287.00" fill="#ec1010"/>
<polygon points="105.30,299.80 112.70,299.80 109.00,293.40" fill="#ec1010"/>
<polygon points="116.90,318.20 124.30,318.20 120.60,311.80" fill="#ec1010"/>
<polygon points="128.50,317.00 135.90,317.00 132.20,310.60" fill="#ec1010"/>
<polygon points="140.10,308.80 147.50,308.80 143.80,302.40" fill="#ec1010"/>
<polygon points="151.70,269.70 159.10,269.70 155.40,263.30" fill="#ec1010"/>
<polygon points="163.30,255.20 170.70,255.20 167.00,248.80" fill="#ec1010"/>
<polygon points="174.90,245.40 182.30,245.40 178.60,239.00" fill="#ec1010"/>
<polygon points="186.50,239.20 193.90,239.20 190.20,232.80" fill="#ec1010"/>
<polygon points="198.10,233.80 205.50,233.80 201.80,227.40" fill="#ec1010"/>
<polygon points="209.70,229.60 217.10,229.60 213.40,223.20" fill="#ec1010"/>
<polygon points="221.30,225.40 228.70,225.40 225.00,219.00" fill="#ec1010"/>
<polygon points="58.90,302.80 66.30,302.80 62.60,309.20" fill="#111"/>
<polygon points="70.50,294.70 77.90,294.70 74.20,301.10" fill="#111"/>
<polygon points="82.10,293.60 89.50,293.60 85.80,300.00" fill="#111"/>
<polygon points="93.70,290.90 101.10,290.90 97.40,297.30" fill="#111"/>
<polygon points="105.30,296.10 112.70,296.10 109.00,302.50" fill="#111"/>
<polygon points="116.90,313.50 124.30,313.50 120.60,319.90" fill="#111"/>
<polygon points="128.50,312.30 135.90,312.30 132.20,318.70" fill="#111"/>
<polygon points="140.10,303.40 147.50,303.40 143.80,309.80" fill="#111"/>
<polygon points="151.70,265.80 159.10,265.80 155.40,272.20" fill="#111"/>
<polygon points="163.30,252.30 170.70,252.30 167.00,258.70" fill="#111"/>
<polygon points="174.90,243.30 182.30,243.30 178.60,249.70" fill="#111"/>
<polygon points="186.50,236.20 193.90,236.20 190.20,242.60" fill="#111"/>
<polygon points="198.10,229.20 205.50,229.20 201.80,235.60" fill="#111"/>
<polygon points="209.70,224.60 217.10,224.60 213.40,231.00" fill="#111"/>
<polygon points="221.30,220.20 228.70,220.20 225.00,226.60" fill="#111"/>
<line x1="42.20" y1="202.70" x2="245.50" y2="202.70" stroke="#111" stroke-width="1.0"/>
<line x1="245.50" y1="202.70" x2="245.50" y2="352.70" stroke="#111" stroke-width="1.0"/>
<line x1="42.20" y1="202.70" x2="42.20" y2="353.40" stroke="#111" stroke-width="1.4"/>
<line x1="41.50" y1="352.70" x2="246.00" y2="352.70" stroke="#111" stroke-width="1.4"/>
<line x1="40.50" y1="352.00" x2="42.20" y2="352.00" stroke="#111" stroke-width="1.0"/>
<line x1="39.20" y1="339.50" x2="42.20" y2="339.50" stroke="#111" stroke-width="1.0"/>
<text x="37.00" y="342.50" font-size="8.8" text-anchor="end" style="font-family:'Liberation Sans',sans-serif;font-weight:bold" fill="#111" textLength="19.20" lengthAdjust="spacingAndGlyphs" stroke="#111" stroke-width="0.22" >1547</text>
<line x1="40.50" y1="327.00" x2="42.20" y2="327.00" stroke="#111" stroke-width="1.0"/>
<line x1="39.20" y1="314.50" x2="42.20" y2="314.50" stroke="#111" stroke-width="1.0"/>
<text x="37.00" y="317.50" font-size="8.8" text-anchor="end" style="font-family:'Liberation Sans',sans-serif;font-weight:bold" fill="#111" textLength="19.20" lengthAdjust="spacingAndGlyphs" stroke="#111" stroke-width="0.22" >1548</text>
<line x1="40.50" y1="302.00" x2="42.20" y2="302.00" stroke="#111" stroke-width="1.0"/>
<line x1="39.20" y1="289.50" x2="42.20" y2="289.50" stroke="#111" stroke-width="1.0"/>
<text x="37.00" y="292.50" font-size="8.8" text-anchor="end" style="font-family:'Liberation Sans',sans-serif;font-weight:bold" fill="#111" textLength="19.20" lengthAdjust="spacingAndGlyphs" stroke="#111" stroke-width="0.22" >1549</text>
<line x1="40.50" y1="277.00" x2="42.20" y2="277.00" stroke="#111" stroke-width="1.0"/>
<line x1="39.20" y1="264.50" x2="42.20" y2="264.50" stroke="#111" stroke-width="1.0"/>
<text x="37.00" y="267.50" font-size="8.8" text-anchor="end" style="font-family:'Liberation Sans',sans-serif;font-weight:bold" fill="#111" textLength="19.20" lengthAdjust="spacingAndGlyphs" stroke="#111" stroke-width="0.22" >1550</text>
<line x1="40.50" y1="252.00" x2="42.20" y2="252.00" stroke="#111" stroke-width="1.0"/>
<line x1="39.20" y1="239.50" x2="42.20" y2="239.50" stroke="#111" stroke-width="1.0"/>
<text x="37.00" y="242.50" font-size="8.8" text-anchor="end" style="font-family:'Liberation Sans',sans-serif;font-weight:bold" fill="#111" textLength="19.20" lengthAdjust="spacingAndGlyphs" stroke="#111" stroke-width="0.22" >1551</text>
<line x1="40.50" y1="227.00" x2="42.20" y2="227.00" stroke="#111" stroke-width="1.0"/>
<line x1="39.20" y1="214.50" x2="42.20" y2="214.50" stroke="#111" stroke-width="1.0"/>
<text x="37.00" y="217.50" font-size="8.8" text-anchor="end" style="font-family:'Liberation Sans',sans-serif;font-weight:bold" fill="#111" textLength="19.20" lengthAdjust="spacingAndGlyphs" stroke="#111" stroke-width="0.22" >1552</text>
<line x1="40.50" y1="202.00" x2="42.20" y2="202.00" stroke="#111" stroke-width="1.0"/>
<line x1="42.05" y1="352.70" x2="42.05" y2="354.40" stroke="#111" stroke-width="1.0"/>
<line x1="62.40" y1="352.70" x2="62.40" y2="355.50" stroke="#111" stroke-width="1.0"/>
<text x="62.40" y="364.30" font-size="8.2" text-anchor="middle" style="font-family:'Liberation Sans',sans-serif;font-weight:bold" fill="#111" stroke="#111" stroke-width="0.22" >-400</text>
<line x1="82.75" y1="352.70" x2="82.75" y2="354.40" stroke="#111" stroke-width="1.0"/>
<line x1="103.10" y1="352.70" x2="103.10" y2="355.50" stroke="#111" stroke-width="1.0"/>
<text x="103.10" y="364.30" font-size="8.2" text-anchor="middle" style="font-family:'Liberation Sans',sans-serif;font-weight:bold" fill="#111" stroke="#111" stroke-width="0.22" >-200</text>
<line x1="123.45" y1="352.70" x2="123.45" y2="354.40" stroke="#111" stroke-width="1.0"/>
<line x1="143.80" y1="352.70" x2="143.80" y2="355.50" stroke="#111" stroke-width="1.0"/>
<text x="143.80" y="364.30" font-size="8.2" text-anchor="middle" style="font-family:'Liberation Sans',sans-serif;font-weight:bold" fill="#111" stroke="#111" stroke-width="0.22" >0</text>
<line x1="164.15" y1="352.70" x2="164.15" y2="354.40" stroke="#111" stroke-width="1.0"/>
<line x1="184.50" y1="352.70" x2="184.50" y2="355.50" stroke="#111" stroke-width="1.0"/>
<text x="184.50" y="364.30" font-size="8.2" text-anchor="middle" style="font-family:'Liberation Sans',sans-serif;font-weight:bold" fill="#111" stroke="#111" stroke-width="0.22" >200</text>
<line x1="204.85" y1="352.70" x2="204.85" y2="354.40" stroke="#111" stroke-width="1.0"/>
<line x1="225.20" y1="352.70" x2="225.20" y2="355.50" stroke="#111" stroke-width="1.0"/>
<text x="225.20" y="364.30" font-size="8.2" text-anchor="middle" style="font-family:'Liberation Sans',sans-serif;font-weight:bold" fill="#111" stroke="#111" stroke-width="0.22" >400</text>
<line x1="245.55" y1="352.70" x2="245.55" y2="354.40" stroke="#111" stroke-width="1.0"/>
<text x="144.00" y="378.60" font-size="10.2" text-anchor="middle" style="font-family:'Liberation Sans',sans-serif;font-weight:bold" fill="#111" textLength="91.20" lengthAdjust="spacingAndGlyphs" stroke="#111" stroke-width="0.22" >Tip coordinate (μm)</text>
<text transform="translate(13.6,277.4) rotate(-90)" x="0" y="0" font-size="10.1" text-anchor="middle" style="font-family:'Liberation Sans',sans-serif;font-weight:bold" fill="#111" textLength="80.5" lengthAdjust="spacingAndGlyphs">Wavelength (nm)</text>
<text x="16.20" y="192.60" font-size="14.2" text-anchor="start" style="font-family:'Liberation Serif',serif;font-weight:bold" fill="#111" textLength="16.20" lengthAdjust="spacingAndGlyphs" >(c)</text>
<line x1="152.90" y1="308.50" x2="171.80" y2="308.50" stroke="#e01010" stroke-width="1.1"/>
<polygon points="158.90,310.80 165.90,310.80 162.40,305.00" fill="#ec1010"/>
<text x="173.50" y="311.00" font-size="7.2" text-anchor="start" style="font-family:'Liberation Sans',sans-serif;font-weight:bold" fill="#111" textLength="68.80" lengthAdjust="spacingAndGlyphs" stroke="#111" stroke-width="0.22" >15.6 mw Left to right</text>
<line x1="152.90" y1="318.60" x2="171.80" y2="318.60" stroke="#111" stroke-width="1.1"/>
<polygon points="158.90,316.30 165.90,316.30 162.40,322.10" fill="#111"/>
<text x="173.50" y="320.90" font-size="7.2" text-anchor="start" style="font-family:'Liberation Sans',sans-serif;font-weight:bold" fill="#111" textLength="69.20" lengthAdjust="spacingAndGlyphs" stroke="#111" stroke-width="0.22" >15.6 mw Right to left</text>
<polyline points="329.50,325.60 399.60,235.00" fill="none" stroke="#111" stroke-width="1.25" stroke-linejoin="round" />
<polyline points="329.50,328.60 399.60,238.40" fill="none" stroke="#e01010" stroke-width="1.25" stroke-linejoin="round" />
<polyline points="399.34,244.40 422.45,234.00 445.57,227.40 468.68,219.30 491.79,214.60" fill="none" stroke="#111" stroke-width="1.25" stroke-linejoin="round" />
<polyline points="399.34,247.70 422.45,238.40 445.57,229.40 468.68,221.80 491.79,214.60" fill="none" stroke="#e01010" stroke-width="1.25" stroke-linejoin="round" />
<rect x="327.40" y="334.00" width="5.2" height="5.2" fill="#111"/>
<rect x="350.51" y="277.10" width="5.2" height="5.2" fill="#111"/>
<rect x="373.63" y="254.90" width="5.2" height="5.2" fill="#111"/>
<rect x="396.74" y="241.80" width="5.2" height="5.2" fill="#111"/>
<rect x="419.85" y="231.40" width="5.2" height="5.2" fill="#111"/>
<rect x="442.97" y="224.80" width="5.2" height="5.2" fill="#111"/>
<rect x="466.08" y="216.70" width="5.2" height="5.2" fill="#111"/>
<rect x="489.19" y="212.00" width="5.2" height="5.2" fill="#111"/>
<circle cx="330.00" cy="339.60" r="3.0" fill="#ee1010"/>
<circle cx="353.11" cy="284.00" r="3.0" fill="#ee1010"/>
<circle cx="376.23" cy="260.80" r="3.0" fill="#ee1010"/>
<circle cx="399.34" cy="247.70" r="3.0" fill="#ee1010"/>
<circle cx="422.45" cy="238.40" r="3.0" fill="#ee1010"/>
<circle cx="445.57" cy="229.40" r="3.0" fill="#ee1010"/>
<circle cx="468.68" cy="221.80" r="3.0" fill="#ee1010"/>
<circle cx="491.79" cy="214.60" r="3.0" fill="#ee1010"/>
<line x1="309.60" y1="202.50" x2="513.00" y2="202.50" stroke="#111" stroke-width="1.0"/>
<line x1="513.00" y1="202.50" x2="513.00" y2="352.60" stroke="#111" stroke-width="1.0"/>
<line x1="309.60" y1="202.50" x2="309.60" y2="353.30" stroke="#111" stroke-width="1.4"/>
<line x1="308.90" y1="352.60" x2="513.50" y2="352.60" stroke="#111" stroke-width="1.4"/>
<line x1="306.60" y1="352.60" x2="309.60" y2="352.60" stroke="#111" stroke-width="1.0"/>
<text x="304.00" y="355.00" font-size="9.0" text-anchor="end" style="font-family:'Liberation Sans',sans-serif;font-weight:bold" fill="#111" textLength="19.30" lengthAdjust="spacingAndGlyphs" stroke="#111" stroke-width="0.22" >1548</text>
<line x1="307.90" y1="333.84" x2="309.60" y2="333.84" stroke="#111" stroke-width="1.0"/>
<line x1="306.60" y1="315.08" x2="309.60" y2="315.08" stroke="#111" stroke-width="1.0"/>
<text x="304.00" y="317.48" font-size="9.0" text-anchor="end" style="font-family:'Liberation Sans',sans-serif;font-weight:bold" fill="#111" textLength="19.30" lengthAdjust="spacingAndGlyphs" stroke="#111" stroke-width="0.22" >1549</text>
<line x1="307.90" y1="296.31" x2="309.60" y2="296.31" stroke="#111" stroke-width="1.0"/>
<line x1="306.60" y1="277.55" x2="309.60" y2="277.55" stroke="#111" stroke-width="1.0"/>
<text x="304.00" y="279.95" font-size="9.0" text-anchor="end" style="font-family:'Liberation Sans',sans-serif;font-weight:bold" fill="#111" textLength="19.30" lengthAdjust="spacingAndGlyphs" stroke="#111" stroke-width="0.22" >1550</text>
<line x1="307.90" y1="258.79" x2="309.60" y2="258.79" stroke="#111" stroke-width="1.0"/>
<line x1="306.60" y1="240.03" x2="309.60" y2="240.03" stroke="#111" stroke-width="1.0"/>
<text x="304.00" y="242.43" font-size="9.0" text-anchor="end" style="font-family:'Liberation Sans',sans-serif;font-weight:bold" fill="#111" textLength="19.30" lengthAdjust="spacingAndGlyphs" stroke="#111" stroke-width="0.22" >1551</text>
<line x1="307.90" y1="221.26" x2="309.60" y2="221.26" stroke="#111" stroke-width="1.0"/>
<line x1="306.60" y1="202.50" x2="309.60" y2="202.50" stroke="#111" stroke-width="1.0"/>
<text x="304.00" y="204.90" font-size="9.0" text-anchor="end" style="font-family:'Liberation Sans',sans-serif;font-weight:bold" fill="#111" textLength="19.30" lengthAdjust="spacingAndGlyphs" stroke="#111" stroke-width="0.22" >1552</text>
<line x1="309.73" y1="352.60" x2="309.73" y2="354.30" stroke="#111" stroke-width="1.0"/>
<line x1="330.00" y1="352.60" x2="330.00" y2="355.40" stroke="#111" stroke-width="1.0"/>
<text x="330.00" y="365.30" font-size="8.4" text-anchor="middle" style="font-family:'Liberation Sans',sans-serif;font-weight:bold" fill="#111" stroke="#111" stroke-width="0.22" >0</text>
<line x1="350.27" y1="352.60" x2="350.27" y2="354.30" stroke="#111" stroke-width="1.0"/>
<line x1="370.55" y1="352.60" x2="370.55" y2="355.40" stroke="#111" stroke-width="1.0"/>
<text x="370.55" y="365.30" font-size="8.4" text-anchor="middle" style="font-family:'Liberation Sans',sans-serif;font-weight:bold" fill="#111" stroke="#111" stroke-width="0.22" >100</text>
<line x1="390.82" y1="352.60" x2="390.82" y2="354.30" stroke="#111" stroke-width="1.0"/>
<line x1="411.10" y1="352.60" x2="411.10" y2="355.40" stroke="#111" stroke-width="1.0"/>
<text x="411.10" y="365.30" font-size="8.4" text-anchor="middle" style="font-family:'Liberation Sans',sans-serif;font-weight:bold" fill="#111" stroke="#111" stroke-width="0.22" >200</text>
<line x1="431.38" y1="352.60" x2="431.38" y2="354.30" stroke="#111" stroke-width="1.0"/>
<line x1="451.65" y1="352.60" x2="451.65" y2="355.40" stroke="#111" stroke-width="1.0"/>
<text x="451.65" y="365.30" font-size="8.4" text-anchor="middle" style="font-family:'Liberation Sans',sans-serif;font-weight:bold" fill="#111" stroke="#111" stroke-width="0.22" >300</text>
<line x1="471.93" y1="352.60" x2="471.93" y2="354.30" stroke="#111" stroke-width="1.0"/>
<line x1="492.20" y1="352.60" x2="492.20" y2="355.40" stroke="#111" stroke-width="1.0"/>
<text x="492.20" y="365.30" font-size="8.4" text-anchor="middle" style="font-family:'Liberation Sans',sans-serif;font-weight:bold" fill="#111" stroke="#111" stroke-width="0.22" >400</text>
<line x1="512.48" y1="352.60" x2="512.48" y2="354.30" stroke="#111" stroke-width="1.0"/>
<text x="411.20" y="380.00" font-size="10.0" text-anchor="middle" style="font-family:'Liberation Sans',sans-serif;font-weight:bold" fill="#111" textLength="92.60" lengthAdjust="spacingAndGlyphs" stroke="#111" stroke-width="0.22" >Tip coordinate (μm)</text>
<text transform="translate(278.6,277.3) rotate(-90)" x="0" y="0" font-size="10.1" text-anchor="middle" style="font-family:'Liberation Sans',sans-serif;font-weight:bold" fill="#111" textLength="80.5" lengthAdjust="spacingAndGlyphs">Wavelength (nm)</text>
<text x="282.00" y="191.10" font-size="14.2" text-anchor="start" style="font-family:'Liberation Serif',serif;font-weight:bold" fill="#111" textLength="17.60" lengthAdjust="spacingAndGlyphs" >(d)</text>
<rect x="333.8" y="211.0" width="5.0" height="5.0" fill="#111"/>
<circle cx="336.3" cy="223.3" r="2.9" fill="#ee1010"/>
<text x="347.10" y="216.40" font-size="8.1" text-anchor="start" style="font-family:'Liberation Sans',sans-serif;font-weight:bold" fill="#111" textLength="77.40" lengthAdjust="spacingAndGlyphs" stroke="#111" stroke-width="0.22" >15.6 mw Left to right</text>
<text x="347.10" y="226.20" font-size="8.1" text-anchor="start" style="font-family:'Liberation Sans',sans-serif;font-weight:bold" fill="#111" textLength="77.90" lengthAdjust="spacingAndGlyphs" stroke="#111" stroke-width="0.22" >15.6 mw Right to left</text>
<text x="430.30" y="251.40" font-size="11.6" text-anchor="start" style="font-family:'Liberation Sans',sans-serif;font-weight:bold" fill="#111" textLength="65.20" lengthAdjust="spacingAndGlyphs" stroke="#111" stroke-width="0.22" >Sensitivity=</text>
<text x="430.30" y="266.00" font-size="11.6" text-anchor="start" style="font-family:'Liberation Sans',sans-serif;font-weight:bold" fill="#111" textLength="57.00" lengthAdjust="spacingAndGlyphs" stroke="#111" stroke-width="0.22" >3.7 pm/μm</text>
<text x="350.60" y="318.30" font-size="11.9" text-anchor="start" style="font-family:'Liberation Sans',sans-serif;font-weight:bold" fill="#111" textLength="121.80" lengthAdjust="spacingAndGlyphs" stroke="#111" stroke-width="0.22" >Sensitivity=14 pm/μm</text>
</svg></body></html>
